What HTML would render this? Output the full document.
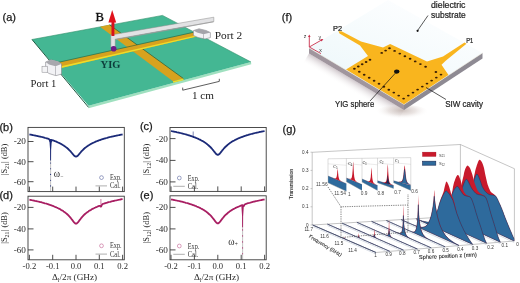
<!DOCTYPE html>
<html><head><meta charset="utf-8"><title>Figure</title>
<style>html,body{margin:0;padding:0;background:#fff;} svg{display:block;}</style></head>
<body><svg width="520" height="283" viewBox="0 0 520 283">
<rect width="520" height="283" fill="#fff"/>
<text x="2.6" y="20.8" font-family="'Liberation Sans', sans-serif" font-size="11" fill="#1a1a1a" stroke="#1a1a1a" stroke-width="0.25">(a)</text>
<polygon points="88.5,105.8 251.0,62.0 251.3,64.3 88.5,108.3" fill="#9fe0bf"/>
<polygon points="32.0,39.5 162.5,15.4 251.0,62.0 88.5,105.8" fill="#44b793"/>
<polyline points="32.0,39.5 162.5,15.4 251.0,62.0" fill="none" stroke="#2d8f68" stroke-width="0.6"/>
<line x1="32" y1="39.5" x2="88.5" y2="107.3" stroke="#1f5c44" stroke-width="1.0"/>
<polygon points="100.0,26.8 109.5,24.8 183.5,78.6 173.0,81.2" fill="#d7a21e"/>
<line x1="109.5" y1="24.8" x2="183.5" y2="78.6" stroke="#2a5a34" stroke-width="0.7"/>
<polygon points="173.0,81.2 183.5,78.6 183.5,80.2 173.0,82.8" fill="#eedc2a"/>
<polygon points="55.0,63.3 197.0,31.7 197.0,36.6 60.0,68.2" fill="#d7a21e"/>
<polygon points="60.0,66.4 197.0,35.2 197.0,36.6 60.0,68.2" fill="#eedc2a"/>
<line x1="55" y1="63.1" x2="197" y2="31.5" stroke="#2a5a34" stroke-width="0.6"/>
<polygon points="110.8,35.0 213.8,17.2 213.8,21.6 115.2,39.2 115.2,47.0 110.8,47.0" fill="#e2e2e4" stroke="#8a8a8a" stroke-width="0.5"/>
<line x1="115.6" y1="39.6" x2="213.5" y2="21.8" stroke="#9a9a9a" stroke-width="0.8"/>
<circle cx="113.7" cy="48.8" r="2.8" fill="#6e1a86"/>
<rect x="111.5" y="21.5" width="2.9" height="14.5" fill="#d8121c"/>
<polygon points="112.2,10.0 116.2,22.5 108.4,22.5" fill="#e0121c"/>
<polygon points="45.6,62.0 51.0,59.8 58.0,61.5 61.5,64.0 61.5,74.0 56.0,75.7 49.0,73.5 45.6,71.0" fill="#f2f2f5" stroke="#7c7c82" stroke-width="0.55"/>
<polygon points="45.6,62.0 51.0,59.8 58.0,61.5 61.5,64.0 55.5,66.3 49.0,64.5" fill="#a8a8ae"/>
<line x1="55.5" y1="66.3" x2="55.5" y2="75.2" stroke="#8a8a90" stroke-width="0.5"/>
<rect x="42" y="66.2" width="5.5" height="6" fill="#f4f4f6" stroke="#7c7c82" stroke-width="0.45"/>
<polygon points="193.4,30.6 199.0,28.8 206.0,30.5 210.4,32.6 210.4,37.6 205.0,39.0 198.0,37.5 193.4,35.4" fill="#f2f2f5" stroke="#7c7c82" stroke-width="0.55"/>
<polygon points="193.4,30.6 199.0,28.8 206.0,30.5 210.4,32.6 203.5,34.2 197.0,32.6" fill="#a4a4aa"/>
<line x1="203.5" y1="34.2" x2="203.5" y2="38.6" stroke="#8a8a90" stroke-width="0.5"/>
<text x="95.6" y="20.7" font-family="'Liberation Serif', serif" font-size="12.6" fill="#111" stroke="#111" stroke-width="0.35">B</text>
<text x="100.6" y="68" font-family="'Liberation Serif', serif" font-size="11.2" font-weight="bold" fill="#0c3c3a" textLength="19.8" lengthAdjust="spacingAndGlyphs">YIG</text>
<text x="214.8" y="38.9" font-family="'Liberation Serif', serif" font-size="11.2" fill="#1a1a1a" textLength="27.5" lengthAdjust="spacingAndGlyphs">Port 2</text>
<text x="30.6" y="86.6" font-family="'Liberation Serif', serif" font-size="11.2" fill="#1a1a1a" textLength="25.8" lengthAdjust="spacingAndGlyphs">Port 1</text>
<polyline points="182.7,87.6 182.7,90.2 219.3,81.4 219.3,78.8" fill="none" stroke="#333" stroke-width="0.8"/>
<text x="192" y="99.3" font-family="'Liberation Serif', serif" font-size="10.6" fill="#1a1a1a" textLength="22" lengthAdjust="spacingAndGlyphs">1 cm</text>
<text x="-0.6" y="131.3" font-family="'Liberation Sans', sans-serif" font-size="11" fill="#1a1a1a" stroke="#1a1a1a" stroke-width="0.25">(b)</text>
<circle cx="101.5" cy="177.6" r="1.9" fill="none" stroke="#1b2a78" stroke-width="0.6" opacity="0.7"/>
<text x="110.0" y="180.2" font-family="'Liberation Serif', serif" font-size="7.2" fill="#333" textLength="11.6" lengthAdjust="spacingAndGlyphs">Exp.</text>
<line x1="95.5" y1="185.9" x2="107.0" y2="185.9" stroke="#777" stroke-width="0.6"/>
<text x="110.0" y="188.4" font-family="'Liberation Serif', serif" font-size="7.2" fill="#333" textLength="10.6" lengthAdjust="spacingAndGlyphs">Cal.</text>
<line x1="50.6" y1="139.6" x2="50.6" y2="191.6" stroke="#888" stroke-width="0.5"/>
<polygon points="49.300000000000004,139.1 51.9,139.1 51.1,150.0 51.050000000000004,160.4 50.15,160.4 50.1,150.0" fill="#1b2a78"/>
<circle cx="50.6" cy="163.0" r="0.55" fill="#1b2a78"/>
<circle cx="50.6" cy="168.7" r="0.55" fill="#1b2a78"/>
<circle cx="50.6" cy="174.4" r="0.55" fill="#1b2a78"/>
<circle cx="50.6" cy="180.2" r="0.55" fill="#1b2a78"/>
<circle cx="50.6" cy="185.9" r="0.55" fill="#1b2a78"/>
<polyline points="29.4,134.4 30.2,134.6 31.0,134.7 31.7,134.9 32.5,135.0 33.3,135.2 34.1,135.3 34.8,135.5 35.6,135.6 36.4,135.8 37.2,136.0 37.9,136.1 38.7,136.3 39.5,136.5 40.3,136.6 41.1,136.8 41.8,137.0 42.6,137.2 43.4,137.4 44.2,137.6 44.9,137.8 45.7,138.0 46.5,138.3 47.1,138.4 47.3,138.5 47.3,138.5 47.6,138.6 47.8,138.6 48.0,138.7 48.3,138.8 48.5,138.9 48.7,139.0 48.8,139.0 49.0,139.1 49.2,139.3 49.4,139.6 49.6,139.8 49.7,140.0 49.9,140.4 50.1,140.9 50.4,141.3 50.6,141.5 50.8,141.5 51.1,141.2 51.1,141.1 51.3,140.9 51.5,140.6 51.8,140.3 51.9,140.2 52.0,140.2 52.2,140.2 52.5,140.2 52.7,140.3 52.9,140.3 53.2,140.4 53.4,140.5 53.5,140.5 53.6,140.6 53.9,140.7 54.3,140.8 55.0,141.1 55.8,141.4 56.6,141.8 57.4,142.1 58.1,142.5 58.9,142.8 59.7,143.2 60.5,143.6 61.2,144.0 62.0,144.5 62.8,145.0 63.6,145.4 64.3,146.0 65.1,146.5 65.9,147.1 66.7,147.7 67.5,148.3 68.2,149.0 69.0,149.8 69.8,150.6 70.6,151.4 71.3,152.3 71.6,152.6 71.8,152.8 72.0,153.1 72.1,153.2 72.3,153.4 72.5,153.7 72.7,154.0 72.9,154.2 73.0,154.2 73.2,154.5 73.4,154.8 73.7,155.1 73.9,155.3 74.1,155.5 74.4,155.8 74.4,155.8 74.6,156.0 74.8,156.1 75.1,156.3 75.2,156.4 75.3,156.4 75.5,156.5 75.8,156.6 76.0,156.6 76.2,156.6 76.5,156.5 76.7,156.4 76.8,156.4 76.9,156.3 77.2,156.1 77.4,156.0 77.6,155.8 77.6,155.8 77.9,155.5 78.1,155.3 78.3,155.1 78.6,154.8 78.8,154.5 79.0,154.2 79.1,154.2 79.3,154.0 79.5,153.7 79.7,153.4 79.9,153.2 80.0,153.1 80.2,152.8 80.4,152.6 80.7,152.3 81.4,151.4 82.2,150.6 83.0,149.8 83.8,149.0 84.5,148.3 85.3,147.7 86.1,147.1 86.9,146.5 87.7,146.0 88.4,145.4 89.2,145.0 90.0,144.5 90.8,144.0 91.5,143.6 92.3,143.2 93.1,142.8 93.9,142.5 94.6,142.1 95.4,141.8 96.2,141.4 97.0,141.1 97.2,141.0 97.4,140.9 97.7,140.9 97.7,140.8 97.9,140.8 98.1,140.7 98.4,140.6 98.5,140.5 98.6,140.5 98.8,140.4 99.1,140.3 99.3,140.2 99.5,140.2 99.8,140.1 100.0,140.0 100.1,140.0 100.2,139.9 100.5,139.8 100.7,139.8 100.9,139.7 100.9,139.7 101.2,139.6 101.4,139.5 101.6,139.4 101.9,139.4 102.1,139.3 102.3,139.2 102.4,139.2 102.6,139.1 102.8,139.1 103.0,139.0 103.2,138.9 103.3,138.9 103.5,138.9 103.7,138.8 104.0,138.7 104.2,138.6 104.4,138.6 104.7,138.5 104.7,138.5 104.9,138.4 105.1,138.4 105.5,138.3 106.3,138.0 107.1,137.8 107.8,137.6 108.6,137.4 109.4,137.2 110.2,137.0 110.9,136.8 111.7,136.6 112.5,136.5 113.3,136.3 114.1,136.1 114.8,136.0 115.6,135.8 116.4,135.6 117.2,135.5 117.9,135.3 118.7,135.2 119.5,135.0 120.3,134.9 121.0,134.7 121.8,134.6 122.6,134.4" fill="none" stroke="#1b2a78" stroke-width="1.8" stroke-linejoin="round"/>
<rect x="28" y="127.4" width="96.3" height="64.19999999999999" fill="none" stroke="#3a3a3a" stroke-width="0.9"/>
<line x1="28" y1="141.5" x2="33.5" y2="141.5" stroke="#3a3a3a" stroke-width="0.9"/>
<text x="13.7" y="144.4" font-family="'Liberation Serif', serif" font-size="8.7" fill="#2a2a2a" textLength="12.3" lengthAdjust="spacingAndGlyphs">-20</text>
<line x1="28" y1="161.7" x2="33.5" y2="161.7" stroke="#3a3a3a" stroke-width="0.9"/>
<text x="13.7" y="164.6" font-family="'Liberation Serif', serif" font-size="8.7" fill="#2a2a2a" textLength="12.3" lengthAdjust="spacingAndGlyphs">-40</text>
<line x1="28" y1="181.7" x2="33.5" y2="181.7" stroke="#3a3a3a" stroke-width="0.9"/>
<text x="13.7" y="184.6" font-family="'Liberation Serif', serif" font-size="8.7" fill="#2a2a2a" textLength="12.3" lengthAdjust="spacingAndGlyphs">-60</text>
<line x1="29.4" y1="191.6" x2="29.4" y2="186.6" stroke="#3a3a3a" stroke-width="0.9"/>
<line x1="52.7" y1="191.6" x2="52.7" y2="186.6" stroke="#3a3a3a" stroke-width="0.9"/>
<line x1="76.0" y1="191.6" x2="76.0" y2="186.6" stroke="#3a3a3a" stroke-width="0.9"/>
<line x1="99.3" y1="191.6" x2="99.3" y2="186.6" stroke="#3a3a3a" stroke-width="0.9"/>
<line x1="122.6" y1="191.6" x2="122.6" y2="186.6" stroke="#3a3a3a" stroke-width="0.9"/>
<text transform="translate(7.199999999999999,159.5) rotate(-90)" text-anchor="middle" font-family="'Liberation Serif', serif" font-size="8.4" fill="#2a2a2a">|S<tspan font-size='6' dy='1.5'>21</tspan><tspan dy='-1.5'>| (dB)</tspan></text>
<text x="53.8" y="176.6" font-family="'Liberation Serif', serif" font-size="9.6" fill="#2a2a2a">ω<tspan font-size='5.5' dy='1.5'>−</tspan></text>
<text x="139.9" y="130.3" font-family="'Liberation Sans', sans-serif" font-size="11" fill="#1a1a1a" stroke="#1a1a1a" stroke-width="0.25">(c)</text>
<circle cx="179.3" cy="178" r="1.9" fill="none" stroke="#1b2a78" stroke-width="0.6" opacity="0.7"/>
<text x="187.8" y="180.6" font-family="'Liberation Serif', serif" font-size="7.2" fill="#333" textLength="11.6" lengthAdjust="spacingAndGlyphs">Exp.</text>
<line x1="173.3" y1="186.3" x2="184.8" y2="186.3" stroke="#777" stroke-width="0.6"/>
<text x="187.8" y="188.8" font-family="'Liberation Serif', serif" font-size="7.2" fill="#333" textLength="10.6" lengthAdjust="spacingAndGlyphs">Cal.</text>
<line x1="193.2" y1="131.5" x2="193.2" y2="136.5" stroke="#1b2a78" stroke-width="0.7" opacity="0.8"/>
<polyline points="171.0,131.0 171.8,131.2 172.6,131.3 173.3,131.5 174.1,131.6 174.9,131.8 175.7,131.9 176.5,132.1 177.2,132.3 178.0,132.5 178.8,132.6 179.6,132.8 180.4,133.0 181.1,133.2 181.9,133.4 182.7,133.6 183.5,133.8 184.3,134.0 185.0,134.2 185.8,134.4 186.6,134.6 187.4,134.9 188.2,135.1 188.8,135.3 188.9,135.4 189.0,135.4 189.3,135.5 189.5,135.5 189.7,135.6 190.0,135.7 190.2,135.8 190.4,135.8 190.5,135.9 190.7,135.9 190.9,136.0 191.1,136.1 191.3,136.1 191.4,136.1 191.6,136.2 191.8,136.3 192.1,136.4 192.3,136.5 192.5,136.6 192.8,136.6 192.8,136.7 193.0,136.7 193.2,136.8 193.5,136.9 193.6,137.0 193.7,137.0 193.9,137.1 194.2,137.2 194.4,137.3 194.6,137.3 194.9,137.4 195.1,137.5 195.2,137.6 195.3,137.6 195.6,137.7 196.0,137.9 196.7,138.2 197.5,138.5 198.3,138.9 199.1,139.3 199.9,139.6 200.6,140.0 201.4,140.5 202.2,140.9 203.0,141.3 203.8,141.8 204.5,142.3 205.3,142.8 206.1,143.4 206.9,144.0 207.7,144.6 208.4,145.3 209.2,146.0 210.0,146.7 210.8,147.5 211.6,148.3 212.3,149.2 213.1,150.2 213.4,150.5 213.6,150.8 213.8,151.1 213.9,151.2 214.1,151.4 214.3,151.7 214.5,152.0 214.7,152.2 214.8,152.3 215.0,152.6 215.2,152.9 215.5,153.2 215.7,153.4 215.9,153.7 216.2,153.9 216.2,154.0 216.4,154.1 216.6,154.3 216.9,154.5 217.0,154.6 217.1,154.6 217.3,154.7 217.6,154.8 217.8,154.8 218.0,154.8 218.3,154.7 218.5,154.6 218.6,154.6 218.7,154.5 219.0,154.3 219.2,154.1 219.4,154.0 219.4,153.9 219.7,153.7 219.9,153.4 220.1,153.2 220.4,152.9 220.6,152.6 220.8,152.3 220.9,152.2 221.1,152.0 221.3,151.7 221.5,151.4 221.7,151.2 221.8,151.1 222.0,150.8 222.2,150.5 222.5,150.2 223.3,149.2 224.0,148.3 224.8,147.5 225.6,146.7 226.4,146.0 227.2,145.3 227.9,144.6 228.7,144.0 229.5,143.4 230.3,142.8 231.1,142.3 231.8,141.8 232.6,141.3 233.4,140.9 234.2,140.5 235.0,140.0 235.7,139.6 236.5,139.3 237.3,138.9 238.1,138.5 238.9,138.2 239.1,138.1 239.3,138.0 239.6,137.9 239.6,137.9 239.8,137.8 240.0,137.7 240.3,137.6 240.4,137.6 240.5,137.5 240.7,137.4 241.0,137.3 241.2,137.3 241.4,137.2 241.7,137.1 241.9,137.0 242.0,137.0 242.1,136.9 242.4,136.8 242.6,136.7 242.8,136.7 242.8,136.6 243.1,136.6 243.3,136.5 243.5,136.4 243.8,136.3 244.0,136.2 244.2,136.1 244.3,136.1 244.5,136.1 244.7,136.0 244.9,135.9 245.1,135.9 245.2,135.8 245.4,135.8 245.6,135.7 245.9,135.6 246.1,135.5 246.3,135.5 246.6,135.4 246.7,135.4 246.8,135.3 247.1,135.2 247.4,135.1 248.2,134.9 249.0,134.6 249.8,134.4 250.6,134.2 251.3,134.0 252.1,133.8 252.9,133.6 253.7,133.4 254.5,133.2 255.2,133.0 256.0,132.8 256.8,132.6 257.6,132.5 258.4,132.3 259.1,132.1 259.9,131.9 260.7,131.8 261.5,131.6 262.3,131.5 263.0,131.3 263.8,131.2 264.6,131.0" fill="none" stroke="#1b2a78" stroke-width="1.8" stroke-linejoin="round"/>
<rect x="170" y="127.5" width="96.19999999999999" height="63.900000000000006" fill="none" stroke="#3a3a3a" stroke-width="0.9"/>
<line x1="170" y1="138.6" x2="175.5" y2="138.6" stroke="#3a3a3a" stroke-width="0.9"/>
<text x="155.7" y="141.5" font-family="'Liberation Serif', serif" font-size="8.7" fill="#2a2a2a" textLength="12.3" lengthAdjust="spacingAndGlyphs">-20</text>
<line x1="170" y1="160.4" x2="175.5" y2="160.4" stroke="#3a3a3a" stroke-width="0.9"/>
<text x="155.7" y="163.3" font-family="'Liberation Serif', serif" font-size="8.7" fill="#2a2a2a" textLength="12.3" lengthAdjust="spacingAndGlyphs">-40</text>
<line x1="170" y1="181.9" x2="175.5" y2="181.9" stroke="#3a3a3a" stroke-width="0.9"/>
<text x="155.7" y="184.8" font-family="'Liberation Serif', serif" font-size="8.7" fill="#2a2a2a" textLength="12.3" lengthAdjust="spacingAndGlyphs">-60</text>
<line x1="171.0" y1="191.4" x2="171.0" y2="186.4" stroke="#3a3a3a" stroke-width="0.9"/>
<line x1="194.4" y1="191.4" x2="194.4" y2="186.4" stroke="#3a3a3a" stroke-width="0.9"/>
<line x1="217.8" y1="191.4" x2="217.8" y2="186.4" stroke="#3a3a3a" stroke-width="0.9"/>
<line x1="241.2" y1="191.4" x2="241.2" y2="186.4" stroke="#3a3a3a" stroke-width="0.9"/>
<line x1="264.6" y1="191.4" x2="264.6" y2="186.4" stroke="#3a3a3a" stroke-width="0.9"/>
<text transform="translate(149.2,159.45) rotate(-90)" text-anchor="middle" font-family="'Liberation Serif', serif" font-size="8.4" fill="#2a2a2a">|S<tspan font-size='6' dy='1.5'>12</tspan><tspan dy='-1.5'>| (dB)</tspan></text>
<text x="-0.6" y="199.3" font-family="'Liberation Sans', sans-serif" font-size="11" fill="#1a1a1a" stroke="#1a1a1a" stroke-width="0.25">(d)</text>
<circle cx="101.5" cy="245.8" r="1.9" fill="none" stroke="#a81e62" stroke-width="0.6" opacity="0.7"/>
<text x="110.0" y="248.4" font-family="'Liberation Serif', serif" font-size="7.2" fill="#333" textLength="11.6" lengthAdjust="spacingAndGlyphs">Exp.</text>
<line x1="95.5" y1="254.10000000000002" x2="107.0" y2="254.10000000000002" stroke="#777" stroke-width="0.6"/>
<text x="110.0" y="256.6" font-family="'Liberation Serif', serif" font-size="7.2" fill="#333" textLength="10.6" lengthAdjust="spacingAndGlyphs">Cal.</text>
<line x1="100.9" y1="199" x2="100.9" y2="206.5" stroke="#a81e62" stroke-width="0.7" opacity="0.8"/>
<polyline points="29.4,199.7 30.2,199.9 31.0,200.0 31.7,200.2 32.5,200.3 33.3,200.5 34.1,200.6 34.8,200.8 35.6,201.0 36.4,201.1 37.2,201.3 37.9,201.5 38.7,201.7 39.5,201.9 40.3,202.1 41.1,202.2 41.8,202.4 42.6,202.6 43.4,202.9 44.2,203.1 44.9,203.3 45.7,203.5 46.5,203.7 47.1,203.9 47.3,204.0 47.3,204.0 47.6,204.1 47.8,204.2 48.0,204.2 48.3,204.3 48.5,204.4 48.7,204.5 48.8,204.5 49.0,204.5 49.2,204.6 49.4,204.7 49.6,204.7 49.7,204.8 49.9,204.8 50.1,204.9 50.4,205.0 50.6,205.1 50.8,205.2 51.1,205.2 51.1,205.3 51.3,205.3 51.5,205.4 51.8,205.5 51.9,205.6 52.0,205.6 52.2,205.7 52.5,205.8 52.7,205.9 52.9,205.9 53.2,206.0 53.4,206.1 53.5,206.2 53.6,206.2 53.9,206.3 54.3,206.5 55.0,206.8 55.8,207.1 56.6,207.5 57.4,207.8 58.1,208.2 58.9,208.6 59.7,209.0 60.5,209.4 61.2,209.9 62.0,210.4 62.8,210.8 63.6,211.4 64.3,211.9 65.1,212.5 65.9,213.1 66.7,213.8 67.5,214.5 68.2,215.2 69.0,216.0 69.8,216.9 70.6,217.8 71.3,218.8 71.6,219.1 71.8,219.4 72.0,219.7 72.1,219.8 72.3,220.0 72.5,220.3 72.7,220.6 72.9,220.9 73.0,221.0 73.2,221.3 73.4,221.6 73.7,221.9 73.9,222.2 74.1,222.4 74.4,222.7 74.4,222.8 74.6,222.9 74.8,223.1 75.1,223.3 75.2,223.4 75.3,223.5 75.5,223.6 75.8,223.6 76.0,223.7 76.2,223.6 76.5,223.6 76.7,223.5 76.8,223.4 76.9,223.3 77.2,223.1 77.4,222.9 77.6,222.8 77.6,222.7 77.9,222.4 78.1,222.2 78.3,221.9 78.6,221.6 78.8,221.3 79.0,221.0 79.1,220.9 79.3,220.6 79.5,220.3 79.7,220.0 79.9,219.8 80.0,219.7 80.2,219.4 80.4,219.1 80.7,218.8 81.4,217.8 82.2,216.9 83.0,216.0 83.8,215.2 84.5,214.5 85.3,213.8 86.1,213.1 86.9,212.5 87.7,211.9 88.4,211.4 89.2,210.8 90.0,210.4 90.8,209.9 91.5,209.4 92.3,209.0 93.1,208.6 93.9,208.2 94.6,207.8 95.4,207.5 96.2,207.1 97.0,206.8 97.2,206.7 97.4,206.6 97.7,206.5 97.7,206.5 97.9,206.4 98.1,206.3 98.4,206.2 98.5,206.2 98.6,206.1 98.8,206.0 99.1,205.9 99.3,205.9 99.5,205.8 99.8,205.9 100.0,206.0 100.1,206.1 100.2,206.2 100.5,206.5 100.7,206.7 100.9,206.7 100.9,206.7 101.2,206.4 101.4,205.9 101.6,205.4 101.9,204.9 102.1,204.5 102.3,204.3 102.4,204.2 102.6,204.1 102.8,204.0 103.0,203.9 103.2,203.8 103.3,203.8 103.5,203.7 103.7,203.7 104.0,203.6 104.2,203.5 104.4,203.4 104.7,203.4 104.7,203.3 104.9,203.3 105.1,203.2 105.5,203.1 106.3,202.9 107.1,202.7 107.8,202.4 108.6,202.2 109.4,202.0 110.2,201.8 110.9,201.6 111.7,201.4 112.5,201.2 113.3,201.0 114.1,200.9 114.8,200.7 115.6,200.5 116.4,200.3 117.2,200.2 117.9,200.0 118.7,199.8 119.5,199.7 120.3,199.5 121.0,199.4 121.8,199.2 122.6,199.1" fill="none" stroke="#a81e62" stroke-width="1.8" stroke-linejoin="round"/>
<rect x="28" y="196.2" width="96.3" height="63.60000000000002" fill="none" stroke="#3a3a3a" stroke-width="0.9"/>
<line x1="28" y1="207.4" x2="33.5" y2="207.4" stroke="#3a3a3a" stroke-width="0.9"/>
<text x="13.7" y="210.3" font-family="'Liberation Serif', serif" font-size="8.7" fill="#2a2a2a" textLength="12.3" lengthAdjust="spacingAndGlyphs">-20</text>
<line x1="28" y1="228.9" x2="33.5" y2="228.9" stroke="#3a3a3a" stroke-width="0.9"/>
<text x="13.7" y="231.8" font-family="'Liberation Serif', serif" font-size="8.7" fill="#2a2a2a" textLength="12.3" lengthAdjust="spacingAndGlyphs">-40</text>
<line x1="28" y1="249.9" x2="33.5" y2="249.9" stroke="#3a3a3a" stroke-width="0.9"/>
<text x="13.7" y="252.8" font-family="'Liberation Serif', serif" font-size="8.7" fill="#2a2a2a" textLength="12.3" lengthAdjust="spacingAndGlyphs">-60</text>
<line x1="29.4" y1="259.8" x2="29.4" y2="254.8" stroke="#3a3a3a" stroke-width="0.9"/>
<text x="29.4" y="269.1" text-anchor="middle" font-family="'Liberation Serif', serif" font-size="8.6" fill="#2a2a2a">-0.2</text>
<line x1="52.7" y1="259.8" x2="52.7" y2="254.8" stroke="#3a3a3a" stroke-width="0.9"/>
<text x="52.7" y="269.1" text-anchor="middle" font-family="'Liberation Serif', serif" font-size="8.6" fill="#2a2a2a">-0.1</text>
<line x1="76.0" y1="259.8" x2="76.0" y2="254.8" stroke="#3a3a3a" stroke-width="0.9"/>
<text x="76.0" y="269.1" text-anchor="middle" font-family="'Liberation Serif', serif" font-size="8.6" fill="#2a2a2a">0.0</text>
<line x1="99.3" y1="259.8" x2="99.3" y2="254.8" stroke="#3a3a3a" stroke-width="0.9"/>
<text x="99.3" y="269.1" text-anchor="middle" font-family="'Liberation Serif', serif" font-size="8.6" fill="#2a2a2a">0.1</text>
<line x1="122.6" y1="259.8" x2="122.6" y2="254.8" stroke="#3a3a3a" stroke-width="0.9"/>
<text x="122.6" y="269.1" text-anchor="middle" font-family="'Liberation Serif', serif" font-size="8.6" fill="#2a2a2a">0.2</text>
<text transform="translate(7.199999999999999,228.0) rotate(-90)" text-anchor="middle" font-family="'Liberation Serif', serif" font-size="8.4" fill="#2a2a2a">|S<tspan font-size='6' dy='1.5'>21</tspan><tspan dy='-1.5'>| (dB)</tspan></text>
<text x="139.9" y="199.3" font-family="'Liberation Sans', sans-serif" font-size="11" fill="#1a1a1a" stroke="#1a1a1a" stroke-width="0.25">(e)</text>
<circle cx="179.3" cy="246" r="1.9" fill="none" stroke="#a81e62" stroke-width="0.6" opacity="0.7"/>
<text x="187.8" y="248.6" font-family="'Liberation Serif', serif" font-size="7.2" fill="#333" textLength="11.6" lengthAdjust="spacingAndGlyphs">Exp.</text>
<line x1="173.3" y1="254.3" x2="184.8" y2="254.3" stroke="#777" stroke-width="0.6"/>
<text x="187.8" y="256.8" font-family="'Liberation Serif', serif" font-size="7.2" fill="#333" textLength="10.6" lengthAdjust="spacingAndGlyphs">Cal.</text>
<line x1="242.6" y1="205.5" x2="242.6" y2="259.8" stroke="#888" stroke-width="0.5"/>
<polygon points="241.29999999999998,205.0 243.9,205.0 243.1,216.4 243.04999999999998,227.2 242.15,227.2 242.1,216.4" fill="#a81e62"/>
<circle cx="242.6" cy="229.9" r="0.55" fill="#a81e62"/>
<circle cx="242.6" cy="235.9" r="0.55" fill="#a81e62"/>
<circle cx="242.6" cy="241.9" r="0.55" fill="#a81e62"/>
<circle cx="242.6" cy="247.9" r="0.55" fill="#a81e62"/>
<circle cx="242.6" cy="253.8" r="0.55" fill="#a81e62"/>
<polyline points="171.0,199.4 171.8,199.6 172.6,199.7 173.3,199.9 174.1,200.0 174.9,200.2 175.7,200.3 176.5,200.5 177.2,200.7 178.0,200.8 178.8,201.0 179.6,201.2 180.4,201.4 181.1,201.5 181.9,201.7 182.7,201.9 183.5,202.1 184.3,202.3 185.0,202.5 185.8,202.8 186.6,203.0 187.4,203.2 188.2,203.4 188.8,203.6 188.9,203.7 189.0,203.7 189.3,203.8 189.5,203.8 189.7,203.9 190.0,204.0 190.2,204.1 190.4,204.1 190.5,204.2 190.7,204.2 190.9,204.3 191.1,204.4 191.3,204.4 191.4,204.4 191.6,204.5 191.8,204.6 192.1,204.7 192.3,204.8 192.5,204.8 192.8,204.9 192.8,205.0 193.0,205.0 193.2,205.1 193.5,205.2 193.6,205.2 193.7,205.3 193.9,205.4 194.2,205.4 194.4,205.5 194.6,205.6 194.9,205.7 195.1,205.8 195.2,205.8 195.3,205.9 195.6,206.0 196.0,206.1 196.7,206.5 197.5,206.8 198.3,207.2 199.1,207.5 199.9,207.9 200.6,208.3 201.4,208.7 202.2,209.1 203.0,209.6 203.8,210.0 204.5,210.5 205.3,211.1 206.1,211.6 206.9,212.2 207.7,212.8 208.4,213.5 209.2,214.2 210.0,214.9 210.8,215.7 211.6,216.6 212.3,217.5 213.1,218.5 213.4,218.8 213.6,219.1 213.8,219.4 213.9,219.5 214.1,219.7 214.3,220.0 214.5,220.3 214.7,220.5 214.8,220.6 215.0,220.9 215.2,221.3 215.5,221.6 215.7,221.8 215.9,222.1 216.2,222.4 216.2,222.5 216.4,222.6 216.6,222.8 216.9,223.0 217.0,223.1 217.1,223.1 217.3,223.3 217.6,223.3 217.8,223.3 218.0,223.3 218.3,223.3 218.5,223.1 218.6,223.1 218.7,223.0 219.0,222.8 219.2,222.6 219.4,222.5 219.4,222.4 219.7,222.1 219.9,221.8 220.1,221.6 220.4,221.3 220.6,220.9 220.8,220.6 220.9,220.5 221.1,220.3 221.3,220.0 221.5,219.7 221.7,219.5 221.8,219.4 222.0,219.1 222.2,218.8 222.5,218.5 223.3,217.5 224.0,216.6 224.8,215.7 225.6,214.9 226.4,214.2 227.2,213.5 227.9,212.8 228.7,212.2 229.5,211.6 230.3,211.1 231.1,210.5 231.8,210.0 232.6,209.6 233.4,209.1 234.2,208.7 235.0,208.3 235.7,207.9 236.5,207.5 237.3,207.2 238.1,206.8 238.9,206.5 239.1,206.4 239.3,206.3 239.6,206.2 239.6,206.1 239.8,206.1 240.0,206.0 240.3,205.9 240.4,205.8 240.5,205.8 240.7,205.7 241.0,205.6 241.2,205.5 241.4,205.4 241.7,205.4 241.9,205.3 242.0,205.2 242.1,205.2 242.4,205.2 242.6,205.2 242.8,205.3 242.8,205.3 243.1,205.6 243.3,206.0 243.5,206.2 243.8,206.2 244.0,205.8 244.2,205.2 244.3,205.1 244.5,204.8 244.7,204.5 244.9,204.3 245.1,204.2 245.2,204.1 245.4,204.1 245.6,204.0 245.9,203.9 246.1,203.8 246.3,203.8 246.6,203.7 246.7,203.7 246.8,203.6 247.1,203.5 247.4,203.4 248.2,203.2 249.0,203.0 249.8,202.8 250.6,202.5 251.3,202.3 252.1,202.1 252.9,201.9 253.7,201.7 254.5,201.5 255.2,201.4 256.0,201.2 256.8,201.0 257.6,200.8 258.4,200.7 259.1,200.5 259.9,200.3 260.7,200.2 261.5,200.0 262.3,199.9 263.0,199.7 263.8,199.6 264.6,199.4" fill="none" stroke="#a81e62" stroke-width="1.8" stroke-linejoin="round"/>
<rect x="170" y="195.8" width="96.19999999999999" height="64.0" fill="none" stroke="#3a3a3a" stroke-width="0.9"/>
<line x1="170" y1="207.4" x2="175.5" y2="207.4" stroke="#3a3a3a" stroke-width="0.9"/>
<text x="155.7" y="210.3" font-family="'Liberation Serif', serif" font-size="8.7" fill="#2a2a2a" textLength="12.3" lengthAdjust="spacingAndGlyphs">-20</text>
<line x1="170" y1="228.9" x2="175.5" y2="228.9" stroke="#3a3a3a" stroke-width="0.9"/>
<text x="155.7" y="231.8" font-family="'Liberation Serif', serif" font-size="8.7" fill="#2a2a2a" textLength="12.3" lengthAdjust="spacingAndGlyphs">-40</text>
<line x1="170" y1="249.9" x2="175.5" y2="249.9" stroke="#3a3a3a" stroke-width="0.9"/>
<text x="155.7" y="252.8" font-family="'Liberation Serif', serif" font-size="8.7" fill="#2a2a2a" textLength="12.3" lengthAdjust="spacingAndGlyphs">-60</text>
<line x1="171.0" y1="259.8" x2="171.0" y2="254.8" stroke="#3a3a3a" stroke-width="0.9"/>
<text x="171.0" y="269.1" text-anchor="middle" font-family="'Liberation Serif', serif" font-size="8.6" fill="#2a2a2a">-0.2</text>
<line x1="194.4" y1="259.8" x2="194.4" y2="254.8" stroke="#3a3a3a" stroke-width="0.9"/>
<text x="194.4" y="269.1" text-anchor="middle" font-family="'Liberation Serif', serif" font-size="8.6" fill="#2a2a2a">-0.1</text>
<line x1="217.8" y1="259.8" x2="217.8" y2="254.8" stroke="#3a3a3a" stroke-width="0.9"/>
<text x="217.8" y="269.1" text-anchor="middle" font-family="'Liberation Serif', serif" font-size="8.6" fill="#2a2a2a">0.0</text>
<line x1="241.2" y1="259.8" x2="241.2" y2="254.8" stroke="#3a3a3a" stroke-width="0.9"/>
<text x="241.2" y="269.1" text-anchor="middle" font-family="'Liberation Serif', serif" font-size="8.6" fill="#2a2a2a">0.1</text>
<line x1="264.6" y1="259.8" x2="264.6" y2="254.8" stroke="#3a3a3a" stroke-width="0.9"/>
<text x="264.6" y="269.1" text-anchor="middle" font-family="'Liberation Serif', serif" font-size="8.6" fill="#2a2a2a">0.2</text>
<text transform="translate(149.2,227.8) rotate(-90)" text-anchor="middle" font-family="'Liberation Serif', serif" font-size="8.4" fill="#2a2a2a">|S<tspan font-size='6' dy='1.5'>12</tspan><tspan dy='-1.5'>| (dB)</tspan></text>
<text x="228.3" y="244.6" font-family="'Liberation Serif', serif" font-size="9.6" fill="#2a2a2a">ω<tspan font-size='5.5' dy='1.5'>+</tspan></text>
<text x="74.5" y="279.6" text-anchor="middle" font-family="'Liberation Serif', serif" font-size="9.2" fill="#2a2a2a">Δ<tspan font-size="6" dy="2.2">l</tspan><tspan dy="-2.2">/2π (GHz)</tspan></text>
<text x="216.5" y="279.6" text-anchor="middle" font-family="'Liberation Serif', serif" font-size="9.2" fill="#2a2a2a">Δ<tspan font-size="6" dy="2.2">l</tspan><tspan dy="-2.2">/2π (GHz)</tspan></text>
<text x="281.8" y="20.6" font-family="'Liberation Sans', sans-serif" font-size="11" fill="#1a1a1a" stroke="#1a1a1a" stroke-width="0.25">(f)</text>
<defs><linearGradient id="shd" gradientUnits="userSpaceOnUse" x1="356.5" y1="81.8" x2="350.9" y2="91.2"><stop offset="0" stop-color="#c9bfc4" stop-opacity="0.85"/><stop offset="1" stop-color="#ffffff" stop-opacity="0"/></linearGradient><radialGradient id="shd2" cx="0.5" cy="0.35" r="0.5"><stop offset="0" stop-color="#c9bdb9" stop-opacity="0.95"/><stop offset="0.5" stop-color="#ddd4d1" stop-opacity="0.6"/><stop offset="1" stop-color="#ffffff" stop-opacity="0"/></radialGradient><linearGradient id="sub" x1="0" y1="1" x2="0.6" y2="0"><stop offset="0" stop-color="#e9f6fa"/><stop offset="0.5" stop-color="#f3fafc"/><stop offset="1" stop-color="#fdfeff"/></linearGradient></defs>
<polygon points="309.0,53.6 404.0,110.1 398.4,119.5 303.4,63.0" fill="url(#shd)"/>
<ellipse cx="402" cy="113" rx="27" ry="8.5" fill="url(#shd2)"/>
<polygon points="309.0,48.0 404.0,104.5 404.0,110.1 309.0,53.6" fill="#a0969e"/>
<polygon points="404.0,104.5 482.5,53.0 482.5,58.6 404.0,110.1" fill="#8e8a93"/>
<polygon points="309.0,48.0 388.0,0.0 482.5,53.0 404.0,104.5" fill="url(#sub)"/>
<polygon points="346.0,69.5 368.0,56.0 360.0,45.5 339.5,33.5 338.5,31.2 341.5,31.2 361.0,41.4 383.0,47.6 390.2,44.0 427.0,61.5 443.0,56.5 464.5,42.5 466.5,43.8 446.0,60.5 441.5,64.8 448.5,75.0 404.0,104.5" fill="#f9b51e"/>
<polyline points="309.0,48.0 404.0,104.5 482.5,53.0" fill="none" stroke="#d9d2c4" stroke-width="0.5"/>
<ellipse cx="354.4" cy="68.8" rx="1.35" ry="0.95" fill="#3a1e05"/>
<ellipse cx="358.3" cy="66.5" rx="1.35" ry="0.95" fill="#3a1e05"/>
<ellipse cx="362.2" cy="64.2" rx="1.35" ry="0.95" fill="#3a1e05"/>
<ellipse cx="366.1" cy="62.0" rx="1.35" ry="0.95" fill="#3a1e05"/>
<ellipse cx="370.0" cy="59.7" rx="1.35" ry="0.95" fill="#3a1e05"/>
<ellipse cx="381.7" cy="52.9" rx="1.35" ry="0.95" fill="#3a1e05"/>
<ellipse cx="385.6" cy="50.6" rx="1.35" ry="0.95" fill="#3a1e05"/>
<ellipse cx="389.5" cy="48.3" rx="1.35" ry="0.95" fill="#3a1e05"/>
<ellipse cx="394.6" cy="50.9" rx="1.35" ry="0.95" fill="#3a1e05"/>
<ellipse cx="399.8" cy="53.6" rx="1.35" ry="0.95" fill="#3a1e05"/>
<ellipse cx="404.9" cy="56.2" rx="1.35" ry="0.95" fill="#3a1e05"/>
<ellipse cx="410.1" cy="58.8" rx="1.35" ry="0.95" fill="#3a1e05"/>
<ellipse cx="415.2" cy="61.4" rx="1.35" ry="0.95" fill="#3a1e05"/>
<ellipse cx="420.4" cy="64.1" rx="1.35" ry="0.95" fill="#3a1e05"/>
<ellipse cx="425.6" cy="66.7" rx="1.35" ry="0.95" fill="#3a1e05"/>
<ellipse cx="435.9" cy="72.0" rx="1.35" ry="0.95" fill="#3a1e05"/>
<ellipse cx="441.0" cy="74.6" rx="1.35" ry="0.95" fill="#3a1e05"/>
<ellipse cx="436.3" cy="77.6" rx="1.35" ry="0.95" fill="#3a1e05"/>
<ellipse cx="431.6" cy="80.6" rx="1.35" ry="0.95" fill="#3a1e05"/>
<ellipse cx="427.0" cy="83.6" rx="1.35" ry="0.95" fill="#3a1e05"/>
<ellipse cx="422.3" cy="86.6" rx="1.35" ry="0.95" fill="#3a1e05"/>
<ellipse cx="417.6" cy="89.6" rx="1.35" ry="0.95" fill="#3a1e05"/>
<ellipse cx="413.0" cy="92.6" rx="1.35" ry="0.95" fill="#3a1e05"/>
<ellipse cx="408.3" cy="95.6" rx="1.35" ry="0.95" fill="#3a1e05"/>
<ellipse cx="403.6" cy="98.6" rx="1.35" ry="0.95" fill="#3a1e05"/>
<ellipse cx="398.7" cy="95.6" rx="1.35" ry="0.95" fill="#3a1e05"/>
<ellipse cx="393.8" cy="92.6" rx="1.35" ry="0.95" fill="#3a1e05"/>
<ellipse cx="388.8" cy="89.7" rx="1.35" ry="0.95" fill="#3a1e05"/>
<ellipse cx="383.9" cy="86.7" rx="1.35" ry="0.95" fill="#3a1e05"/>
<ellipse cx="379.0" cy="83.7" rx="1.35" ry="0.95" fill="#3a1e05"/>
<ellipse cx="374.1" cy="80.7" rx="1.35" ry="0.95" fill="#3a1e05"/>
<ellipse cx="369.2" cy="77.7" rx="1.35" ry="0.95" fill="#3a1e05"/>
<ellipse cx="364.2" cy="74.8" rx="1.35" ry="0.95" fill="#3a1e05"/>
<ellipse cx="359.3" cy="71.8" rx="1.35" ry="0.95" fill="#3a1e05"/>
<ellipse cx="396.8" cy="71.6" rx="2.7" ry="2.1" fill="#111"/>
<line x1="395.5" y1="73" x2="370" y2="101" stroke="#111" stroke-width="0.7"/>
<line x1="426" y1="87.5" x2="446" y2="99.5" stroke="#111" stroke-width="0.7"/>
<line x1="428" y1="15.5" x2="417.6" y2="30.5" stroke="#111" stroke-width="0.7"/>
<circle cx="417.6" cy="30.8" r="1.1" fill="#111"/>
<text x="431" y="7.6" font-family="'Liberation Sans', sans-serif" font-size="8.8" fill="#1e1e1e" stroke="#1e1e1e" stroke-width="0.22" textLength="34.5" lengthAdjust="spacingAndGlyphs">dielectric</text>
<text x="431" y="18.2" font-family="'Liberation Sans', sans-serif" font-size="8.8" fill="#1e1e1e" stroke="#1e1e1e" stroke-width="0.22" textLength="34.8" lengthAdjust="spacingAndGlyphs">substrate</text>
<text x="333" y="30.5" font-family="'Liberation Sans', sans-serif" font-size="6.3" fill="#1e1e1e" stroke="#1e1e1e" stroke-width="0.22" textLength="9" lengthAdjust="spacingAndGlyphs">P2</text>
<text x="466.3" y="43.4" font-family="'Liberation Sans', sans-serif" font-size="6.3" fill="#1e1e1e" stroke="#1e1e1e" stroke-width="0.22" textLength="7" lengthAdjust="spacingAndGlyphs">P1</text>
<text x="335" y="106.6" font-family="'Liberation Sans', sans-serif" font-size="8.8" fill="#1e1e1e" stroke="#1e1e1e" stroke-width="0.22" textLength="39.2" lengthAdjust="spacingAndGlyphs">YIG sphere</text>
<text x="445.2" y="107.4" font-family="'Liberation Sans', sans-serif" font-size="8.8" fill="#1e1e1e" stroke="#1e1e1e" stroke-width="0.22" textLength="37.8" lengthAdjust="spacingAndGlyphs">SIW cavity</text>
<line x1="309.3" y1="47" x2="309.3" y2="36" stroke="#c8304c" stroke-width="0.9"/>
<polygon points="308,37 309.3,34.5 310.6,37" fill="#c8304c"/>
<line x1="309.3" y1="47" x2="321.5" y2="40" stroke="#c8304c" stroke-width="0.9"/>
<polygon points="320.2,39.2 323.4,38.9 321.6,41.5" fill="#c8304c"/>
<line x1="309.3" y1="47" x2="321" y2="53.6" stroke="#c8304c" stroke-width="0.9"/>
<text x="303.8" y="38.4" font-family="'Liberation Sans', sans-serif" font-size="5.2" fill="#333">z</text>
<text x="318.6" y="38.6" font-family="'Liberation Sans', sans-serif" font-size="5.2" fill="#333">y</text>
<text x="319.2" y="51.6" font-family="'Liberation Sans', sans-serif" font-size="5.2" fill="#333">x</text>
<text x="282.6" y="132.6" font-family="'Liberation Sans', sans-serif" font-size="11" fill="#1a1a1a" stroke="#1a1a1a" stroke-width="0.25">(g)</text>
<polyline points="312.2,225.0 312.2,152.3 460.4,144.5 460.4,216.0" fill="none" stroke="#8c8c8c" stroke-width="0.5"/>
<polyline points="460.4,144.5 514.4,168.7 514.4,241.0" fill="none" stroke="#8c8c8c" stroke-width="0.5"/>
<polyline points="460.2,216.0 312.6,225.0 376.0,252.5 514.2,241.0" fill="none" stroke="#888" stroke-width="0.5"/>
<line x1="310.5" y1="225.0" x2="312.2" y2="225.0" stroke="#777" stroke-width="0.4"/>
<text x="308.5" y="226.6" text-anchor="end" font-family="'Liberation Sans', sans-serif" font-size="4.6" fill="#333">0</text>
<line x1="310.5" y1="206.8" x2="312.2" y2="206.8" stroke="#777" stroke-width="0.4"/>
<text x="308.5" y="208.4" text-anchor="end" font-family="'Liberation Sans', sans-serif" font-size="4.6" fill="#333">0.1</text>
<line x1="310.5" y1="188.6" x2="312.2" y2="188.6" stroke="#777" stroke-width="0.4"/>
<text x="308.5" y="190.2" text-anchor="end" font-family="'Liberation Sans', sans-serif" font-size="4.6" fill="#333">0.2</text>
<line x1="310.5" y1="170.4" x2="312.2" y2="170.4" stroke="#777" stroke-width="0.4"/>
<text x="308.5" y="172.0" text-anchor="end" font-family="'Liberation Sans', sans-serif" font-size="4.6" fill="#333">0.3</text>
<line x1="310.5" y1="152.2" x2="312.2" y2="152.2" stroke="#777" stroke-width="0.4"/>
<text x="308.5" y="153.8" text-anchor="end" font-family="'Liberation Sans', sans-serif" font-size="4.6" fill="#333">0.4</text>
<text transform="translate(292.8,184) rotate(-90)" text-anchor="middle" font-family="'Liberation Sans', sans-serif" font-size="5.2" fill="#2a2a2a" stroke="#2a2a2a" stroke-width="0.1">Transmission</text>
<text x="308.7" y="231.2" text-anchor="middle" font-family="'Liberation Sans', sans-serif" font-size="4.6" fill="#333">11.7</text>
<text x="324.6" y="238.2" text-anchor="middle" font-family="'Liberation Sans', sans-serif" font-size="4.6" fill="#333">11.6</text>
<text x="338.9" y="244.6" text-anchor="middle" font-family="'Liberation Sans', sans-serif" font-size="4.6" fill="#333">11.5</text>
<text x="352.6" y="251.6" text-anchor="middle" font-family="'Liberation Sans', sans-serif" font-size="4.6" fill="#333">11.4</text>
<text transform="translate(324.5,247) rotate(31)" text-anchor="middle" font-family="'Liberation Sans', sans-serif" font-size="4.9" fill="#2a2a2a" stroke="#2a2a2a" stroke-width="0.1">Frequency (GHz)</text>
<text x="375.5" y="257.3" text-anchor="middle" font-family="'Liberation Sans', sans-serif" font-size="4.6" fill="#333">1</text>
<text x="388.7" y="256.2" text-anchor="middle" font-family="'Liberation Sans', sans-serif" font-size="4.6" fill="#333">0.9</text>
<text x="402.3" y="255.1" text-anchor="middle" font-family="'Liberation Sans', sans-serif" font-size="4.6" fill="#333">0.8</text>
<text x="416.6" y="254.0" text-anchor="middle" font-family="'Liberation Sans', sans-serif" font-size="4.6" fill="#333">0.7</text>
<text x="431" y="252.9" text-anchor="middle" font-family="'Liberation Sans', sans-serif" font-size="4.6" fill="#333">0.6</text>
<text x="445.6" y="251.8" text-anchor="middle" font-family="'Liberation Sans', sans-serif" font-size="4.6" fill="#333">0.5</text>
<text x="460.4" y="250.7" text-anchor="middle" font-family="'Liberation Sans', sans-serif" font-size="4.6" fill="#333">0.4</text>
<text x="475" y="249.6" text-anchor="middle" font-family="'Liberation Sans', sans-serif" font-size="4.6" fill="#333">0.3</text>
<text x="490.5" y="248.5" text-anchor="middle" font-family="'Liberation Sans', sans-serif" font-size="4.6" fill="#333">0.2</text>
<text x="504.8" y="247.4" text-anchor="middle" font-family="'Liberation Sans', sans-serif" font-size="4.6" fill="#333">0.1</text>
<text x="517.5" y="246.3" text-anchor="middle" font-family="'Liberation Sans', sans-serif" font-size="4.6" fill="#333">0</text>
<text transform="translate(448,257.8) rotate(-2.5)" text-anchor="middle" font-family="'Liberation Sans', sans-serif" font-size="5.6" fill="#2a2a2a" stroke="#2a2a2a" stroke-width="0.12">Sphere position z (mm)</text>
<polygon points="460.2,216.0 460.7,216.2 461.3,216.4 461.8,216.5 462.4,216.5 462.9,216.5 463.4,216.4 464.0,216.3 464.5,216.2 465.1,215.9 465.6,215.3 466.1,214.4 466.7,213.2 467.2,211.9 467.8,210.4 468.3,208.8 468.8,206.7 469.4,203.8 469.9,200.4 470.5,196.9 471.0,193.7 471.5,190.6 472.1,187.5 472.6,184.4 473.2,181.4 473.7,178.6 474.2,175.8 474.8,173.0 475.3,170.4 475.9,168.3 476.4,166.7 476.9,165.0 477.5,163.4 478.0,162.0 478.6,160.8 479.1,160.0 479.6,159.7 480.2,159.9 480.7,160.5 481.3,161.2 481.8,161.9 482.3,163.0 482.9,164.4 483.4,166.0 484.0,168.0 484.5,170.6 485.0,173.3 485.6,175.9 486.1,178.3 486.7,180.7 487.2,182.9 487.7,184.7 488.3,186.3 488.8,187.8 489.4,189.1 489.9,190.3 490.4,191.3 491.0,192.0 491.5,192.5 492.1,193.0 492.6,193.3 493.1,193.7 493.7,194.1 494.2,194.5 494.8,194.9 495.3,195.4 495.8,196.1 496.4,196.9 496.9,197.9 497.5,198.9 498.0,200.1 498.5,201.2 499.1,202.4 499.6,203.7 500.2,204.8 500.7,206.0 501.2,207.3 501.8,208.7 502.3,210.0 502.9,211.5 503.4,212.9 503.9,214.3 504.5,215.8 505.0,217.2 505.6,218.6 506.1,220.0 506.6,221.3 507.2,222.6 507.7,223.9 508.3,225.2 508.8,226.5 509.3,227.8 509.9,229.1 510.4,230.4 511.0,231.7 511.5,232.9 512.0,234.2 512.6,235.5 513.1,236.7 513.7,237.9 514.2,239.2 514.2,241.0 460.2,216.0" fill="#c81a2c"/>
<polygon points="460.2,216.0 460.7,216.2 461.3,216.4 461.8,216.4 462.4,216.5 462.9,216.5 463.4,216.4 464.0,216.3 464.5,216.2 465.1,215.9 465.6,215.3 466.1,214.6 466.7,213.6 467.2,212.4 467.8,211.1 468.3,209.7 468.8,208.0 469.4,205.6 469.9,203.0 470.5,200.1 471.0,197.3 471.5,194.4 472.1,191.1 472.6,187.7 473.2,184.5 473.7,181.8 474.2,179.7 474.8,178.1 475.3,176.6 475.9,175.3 476.4,174.4 476.9,174.1 477.5,174.5 478.0,175.3 478.6,176.5 479.1,177.8 479.6,179.1 480.2,180.5 480.7,182.1 481.3,183.8 481.8,185.4 482.3,186.7 482.9,187.7 483.4,188.7 484.0,189.6 484.5,190.4 485.0,191.1 485.6,191.7 486.1,192.2 486.7,192.7 487.2,193.2 487.7,193.6 488.3,194.0 488.8,194.3 489.4,194.5 489.9,194.7 490.4,194.8 491.0,194.9 491.5,195.0 492.1,195.0 492.6,195.1 493.1,195.2 493.7,195.3 494.2,195.4 494.8,195.6 495.3,195.9 495.8,196.4 496.4,197.1 496.9,198.1 497.5,199.1 498.0,200.2 498.5,201.4 499.1,202.6 499.6,203.9 500.2,205.0 500.7,206.2 501.2,207.4 501.8,208.8 502.3,210.2 502.9,211.6 503.4,213.0 503.9,214.5 504.5,216.0 505.0,217.4 505.6,218.8 506.1,220.1 506.6,221.5 507.2,222.8 507.7,224.1 508.3,225.4 508.8,226.7 509.3,228.0 509.9,229.2 510.4,230.5 511.0,231.8 511.5,233.0 512.0,234.3 512.6,235.5 513.1,236.7 513.7,238.0 514.2,239.2 514.2,241.0 460.2,216.0" fill="#2e6a9c"/>
<polyline points="460.2,216.0 460.7,216.2 461.3,216.4 461.8,216.4 462.4,216.5 462.9,216.5 463.4,216.4 464.0,216.3 464.5,216.2 465.1,215.9 465.6,215.3 466.1,214.6 466.7,213.6 467.2,212.4 467.8,211.1 468.3,209.7 468.8,208.0 469.4,205.6 469.9,203.0 470.5,200.1 471.0,197.3 471.5,194.4 472.1,191.1 472.6,187.7 473.2,184.5 473.7,181.8 474.2,179.7 474.8,178.1 475.3,176.6 475.9,175.3 476.4,174.4 476.9,174.1 477.5,174.5 478.0,175.3 478.6,176.5 479.1,177.8 479.6,179.1 480.2,180.5 480.7,182.1 481.3,183.8 481.8,185.4 482.3,186.7 482.9,187.7 483.4,188.7 484.0,189.6 484.5,190.4 485.0,191.1 485.6,191.7 486.1,192.2 486.7,192.7 487.2,193.2 487.7,193.6 488.3,194.0 488.8,194.3 489.4,194.5 489.9,194.7 490.4,194.8 491.0,194.9 491.5,195.0 492.1,195.0 492.6,195.1 493.1,195.2 493.7,195.3 494.2,195.4 494.8,195.6 495.3,195.9 495.8,196.4 496.4,197.1 496.9,198.1 497.5,199.1 498.0,200.2 498.5,201.4 499.1,202.6 499.6,203.9 500.2,205.0 500.7,206.2 501.2,207.4 501.8,208.8 502.3,210.2 502.9,211.6 503.4,213.0 503.9,214.5 504.5,216.0 505.0,217.4 505.6,218.8 506.1,220.1 506.6,221.5 507.2,222.8 507.7,224.1 508.3,225.4 508.8,226.7 509.3,228.0 509.9,229.2 510.4,230.5 511.0,231.8 511.5,233.0 512.0,234.3 512.6,235.5 513.1,236.7 513.7,238.0 514.2,239.2" fill="none" stroke="#1b2a55" stroke-width="0.45"/>
<line x1="460.2" y1="217.5" x2="514.2" y2="242.5" stroke="#b4bfcc" stroke-width="0.5"/>
<line x1="460.2" y1="216.0" x2="514.2" y2="241.0" stroke="#333d62" stroke-width="0.6"/>
<polygon points="445.4,216.9 446.0,217.1 446.5,217.3 447.1,217.5 447.6,217.6 448.2,217.6 448.7,217.7 449.3,217.7 449.8,217.7 450.4,217.6 450.9,217.6 451.5,217.5 452.0,217.2 452.6,216.8 453.1,216.3 453.7,215.7 454.2,215.0 454.8,214.1 455.3,213.2 455.9,212.2 456.4,211.0 457.0,209.5 457.5,207.5 458.1,205.0 458.6,202.3 459.2,199.6 459.7,196.5 460.3,192.9 460.8,189.2 461.4,185.7 461.9,182.6 462.5,180.1 463.0,177.9 463.6,175.5 464.1,172.7 464.7,170.6 465.2,169.1 465.8,167.8 466.3,166.7 466.9,165.9 467.4,165.6 468.0,165.8 468.5,166.2 469.1,166.7 469.6,167.4 470.2,168.4 470.7,169.8 471.3,171.4 471.8,173.1 472.4,174.8 472.9,176.8 473.5,178.9 474.0,180.9 474.6,182.9 475.1,184.5 475.7,186.0 476.2,187.4 476.8,188.7 477.3,189.9 477.9,190.9 478.4,191.6 479.0,192.2 479.5,192.7 480.1,193.2 480.6,193.6 481.2,194.0 481.7,194.3 482.2,194.6 482.8,194.8 483.3,195.1 483.9,195.4 484.4,195.7 485.0,196.1 485.5,196.8 486.1,197.8 486.6,199.1 487.2,200.5 487.7,202.2 488.3,204.0 488.8,205.9 489.4,207.9 489.9,209.9 490.5,211.9 491.0,213.9 491.6,215.7 492.1,217.4 492.7,219.1 493.2,220.9 493.8,222.7 494.3,224.5 494.9,226.4 495.4,228.2 496.0,230.1 496.5,231.9 497.1,233.7 497.6,235.3 498.2,236.9 498.7,238.4 499.3,239.8 499.8,241.0 500.4,242.2 500.4,242.2 445.4,216.9" fill="#c81a2c"/>
<polygon points="445.4,216.9 446.0,217.1 446.5,217.3 447.1,217.5 447.6,217.6 448.2,217.6 448.7,217.7 449.3,217.7 449.8,217.7 450.4,217.6 450.9,217.6 451.5,217.5 452.0,217.3 452.6,217.0 453.1,216.5 453.7,216.0 454.2,215.4 454.8,214.7 455.3,213.8 455.9,212.9 456.4,211.9 457.0,210.5 457.5,208.5 458.1,206.2 458.6,203.7 459.2,201.4 459.7,199.1 460.3,196.7 460.8,194.2 461.4,191.7 461.9,189.5 462.5,187.5 463.0,185.9 463.6,184.4 464.1,183.0 464.7,181.6 465.2,180.5 465.8,179.6 466.3,179.3 466.9,179.5 467.4,180.1 468.0,181.1 468.5,182.1 469.1,183.2 469.6,184.2 470.2,185.4 470.7,186.6 471.3,187.7 471.8,188.6 472.4,189.4 472.9,190.1 473.5,190.8 474.0,191.4 474.6,192.1 475.1,192.6 475.7,193.2 476.2,193.6 476.8,194.0 477.3,194.2 477.9,194.4 478.4,194.6 479.0,194.7 479.5,194.8 480.1,194.9 480.6,195.0 481.2,195.1 481.7,195.3 482.2,195.5 482.8,195.6 483.3,195.8 483.9,196.0 484.4,196.2 485.0,196.6 485.5,197.3 486.1,198.2 486.6,199.5 487.2,201.0 487.7,202.6 488.3,204.4 488.8,206.3 489.4,208.3 489.9,210.3 490.5,212.3 491.0,214.2 491.6,216.1 492.1,217.8 492.7,219.5 493.2,221.2 493.8,223.0 494.3,224.8 494.9,226.6 495.4,228.4 496.0,230.2 496.5,232.0 497.1,233.7 497.6,235.4 498.2,237.0 498.7,238.5 499.3,239.8 499.8,241.0 500.4,242.2 500.4,242.2 445.4,216.9" fill="#2e6a9c"/>
<polyline points="445.4,216.9 446.0,217.1 446.5,217.3 447.1,217.5 447.6,217.6 448.2,217.6 448.7,217.7 449.3,217.7 449.8,217.7 450.4,217.6 450.9,217.6 451.5,217.5 452.0,217.3 452.6,217.0 453.1,216.5 453.7,216.0 454.2,215.4 454.8,214.7 455.3,213.8 455.9,212.9 456.4,211.9 457.0,210.5 457.5,208.5 458.1,206.2 458.6,203.7 459.2,201.4 459.7,199.1 460.3,196.7 460.8,194.2 461.4,191.7 461.9,189.5 462.5,187.5 463.0,185.9 463.6,184.4 464.1,183.0 464.7,181.6 465.2,180.5 465.8,179.6 466.3,179.3 466.9,179.5 467.4,180.1 468.0,181.1 468.5,182.1 469.1,183.2 469.6,184.2 470.2,185.4 470.7,186.6 471.3,187.7 471.8,188.6 472.4,189.4 472.9,190.1 473.5,190.8 474.0,191.4 474.6,192.1 475.1,192.6 475.7,193.2 476.2,193.6 476.8,194.0 477.3,194.2 477.9,194.4 478.4,194.6 479.0,194.7 479.5,194.8 480.1,194.9 480.6,195.0 481.2,195.1 481.7,195.3 482.2,195.5 482.8,195.6 483.3,195.8 483.9,196.0 484.4,196.2 485.0,196.6 485.5,197.3 486.1,198.2 486.6,199.5 487.2,201.0 487.7,202.6 488.3,204.4 488.8,206.3 489.4,208.3 489.9,210.3 490.5,212.3 491.0,214.2 491.6,216.1 492.1,217.8 492.7,219.5 493.2,221.2 493.8,223.0 494.3,224.8 494.9,226.6 495.4,228.4 496.0,230.2 496.5,232.0 497.1,233.7 497.6,235.4 498.2,237.0 498.7,238.5 499.3,239.8 499.8,241.0 500.4,242.2" fill="none" stroke="#1b2a55" stroke-width="0.45"/>
<line x1="445.4" y1="218.4" x2="500.4" y2="243.7" stroke="#b4bfcc" stroke-width="0.5"/>
<line x1="445.4" y1="216.9" x2="500.4" y2="242.2" stroke="#333d62" stroke-width="0.6"/>
<polygon points="430.7,217.8 431.2,218.0 431.8,218.3 432.4,218.5 432.9,218.7 433.5,218.8 434.0,219.0 434.6,219.1 435.2,219.3 435.7,219.4 436.3,219.5 436.8,219.6 437.4,219.6 437.9,219.7 438.5,219.8 439.1,219.8 439.6,219.8 440.2,219.8 440.7,219.6 441.3,219.4 441.9,219.2 442.4,218.8 443.0,218.4 443.5,218.0 444.1,217.5 444.7,216.9 445.2,216.1 445.8,215.0 446.3,213.6 446.9,211.9 447.4,210.1 448.0,208.2 448.6,206.3 449.1,204.4 449.7,202.4 450.2,200.2 450.8,198.0 451.4,195.6 451.9,193.1 452.5,190.2 453.0,187.1 453.6,184.3 454.1,182.3 454.7,180.7 455.3,179.1 455.8,177.8 456.4,176.6 456.9,175.7 457.5,175.1 458.1,175.0 458.6,175.4 459.2,176.5 459.7,177.9 460.3,179.4 460.9,181.3 461.4,183.6 462.0,185.7 462.5,187.6 463.1,189.4 463.6,191.0 464.2,192.2 464.8,193.0 465.3,193.7 465.9,194.4 466.4,194.9 467.0,195.2 467.6,195.5 468.1,195.8 468.7,196.0 469.2,196.3 469.8,196.5 470.4,196.9 470.9,197.7 471.5,198.6 472.0,199.9 472.6,201.3 473.1,202.9 473.7,204.6 474.3,206.4 474.8,208.4 475.4,210.3 475.9,212.2 476.5,214.2 477.1,216.0 477.6,217.8 478.2,219.5 478.7,221.1 479.3,222.7 479.9,224.4 480.4,226.1 481.0,227.8 481.5,229.6 482.1,231.3 482.6,233.0 483.2,234.7 483.8,236.3 484.3,237.9 484.9,239.4 485.4,240.8 486.0,242.1 486.6,243.3 486.6,243.3 430.7,217.8" fill="#c81a2c"/>
<polygon points="430.7,217.8 431.2,218.0 431.8,218.3 432.4,218.5 432.9,218.7 433.5,218.8 434.0,219.0 434.6,219.1 435.2,219.3 435.7,219.4 436.3,219.5 436.8,219.6 437.4,219.6 437.9,219.7 438.5,219.8 439.1,219.8 439.6,219.8 440.2,219.8 440.7,219.6 441.3,219.4 441.9,219.1 442.4,218.8 443.0,218.4 443.5,218.0 444.1,217.5 444.7,216.9 445.2,216.1 445.8,215.1 446.3,213.8 446.9,212.3 447.4,210.6 448.0,208.9 448.6,207.1 449.1,205.3 449.7,203.3 450.2,201.0 450.8,198.7 451.4,196.5 451.9,194.7 452.5,193.3 453.0,192.0 453.6,190.8 454.1,189.7 454.7,188.8 455.3,188.1 455.8,187.4 456.4,186.8 456.9,186.4 457.5,186.4 458.1,186.8 458.6,187.5 459.2,188.4 459.7,189.4 460.3,190.3 460.9,191.2 461.4,191.9 462.0,192.8 462.5,193.6 463.1,194.3 463.6,194.9 464.2,195.2 464.8,195.5 465.3,195.7 465.9,195.8 466.4,196.0 467.0,196.2 467.6,196.3 468.1,196.4 468.7,196.5 469.2,196.7 469.8,196.9 470.4,197.3 470.9,198.0 471.5,199.0 472.0,200.2 472.6,201.6 473.1,203.1 473.7,204.8 474.3,206.6 474.8,208.5 475.4,210.4 475.9,212.3 476.5,214.2 477.1,216.1 477.6,217.8 478.2,219.5 478.7,221.0 479.3,222.7 479.9,224.4 480.4,226.1 481.0,227.8 481.5,229.5 482.1,231.3 482.6,233.0 483.2,234.7 483.8,236.3 484.3,237.9 484.9,239.4 485.4,240.8 486.0,242.1 486.6,243.3 486.6,243.3 430.7,217.8" fill="#2e6a9c"/>
<polyline points="430.7,217.8 431.2,218.0 431.8,218.3 432.4,218.5 432.9,218.7 433.5,218.8 434.0,219.0 434.6,219.1 435.2,219.3 435.7,219.4 436.3,219.5 436.8,219.6 437.4,219.6 437.9,219.7 438.5,219.8 439.1,219.8 439.6,219.8 440.2,219.8 440.7,219.6 441.3,219.4 441.9,219.1 442.4,218.8 443.0,218.4 443.5,218.0 444.1,217.5 444.7,216.9 445.2,216.1 445.8,215.1 446.3,213.8 446.9,212.3 447.4,210.6 448.0,208.9 448.6,207.1 449.1,205.3 449.7,203.3 450.2,201.0 450.8,198.7 451.4,196.5 451.9,194.7 452.5,193.3 453.0,192.0 453.6,190.8 454.1,189.7 454.7,188.8 455.3,188.1 455.8,187.4 456.4,186.8 456.9,186.4 457.5,186.4 458.1,186.8 458.6,187.5 459.2,188.4 459.7,189.4 460.3,190.3 460.9,191.2 461.4,191.9 462.0,192.8 462.5,193.6 463.1,194.3 463.6,194.9 464.2,195.2 464.8,195.5 465.3,195.7 465.9,195.8 466.4,196.0 467.0,196.2 467.6,196.3 468.1,196.4 468.7,196.5 469.2,196.7 469.8,196.9 470.4,197.3 470.9,198.0 471.5,199.0 472.0,200.2 472.6,201.6 473.1,203.1 473.7,204.8 474.3,206.6 474.8,208.5 475.4,210.4 475.9,212.3 476.5,214.2 477.1,216.1 477.6,217.8 478.2,219.5 478.7,221.0 479.3,222.7 479.9,224.4 480.4,226.1 481.0,227.8 481.5,229.5 482.1,231.3 482.6,233.0 483.2,234.7 483.8,236.3 484.3,237.9 484.9,239.4 485.4,240.8 486.0,242.1 486.6,243.3" fill="none" stroke="#1b2a55" stroke-width="0.45"/>
<line x1="430.7" y1="219.3" x2="486.6" y2="244.8" stroke="#b4bfcc" stroke-width="0.5"/>
<line x1="430.7" y1="217.8" x2="486.6" y2="243.3" stroke="#333d62" stroke-width="0.6"/>
<polygon points="415.9,218.7 416.5,219.0 417.1,219.2 417.6,219.4 418.2,219.6 418.8,219.9 419.3,220.1 419.9,220.3 420.5,220.4 421.0,220.6 421.6,220.8 422.2,220.9 422.7,221.1 423.3,221.2 423.9,221.4 424.4,221.5 425.0,221.6 425.6,221.7 426.1,221.8 426.7,221.9 427.3,222.0 427.9,222.1 428.4,222.0 429.0,221.9 429.6,221.7 430.1,221.4 430.7,221.0 431.3,220.6 431.8,220.2 432.4,219.7 433.0,219.1 433.5,218.5 434.1,217.7 434.7,216.8 435.2,215.7 435.8,214.5 436.4,213.1 436.9,211.7 437.5,210.3 438.1,208.6 438.6,206.5 439.2,204.3 439.8,202.1 440.4,200.3 440.9,198.6 441.5,197.1 442.1,195.7 442.6,194.2 443.2,192.7 443.8,190.9 444.3,188.5 444.9,186.0 445.5,183.7 446.0,182.1 446.6,181.6 447.2,182.2 447.7,183.2 448.3,184.6 448.9,186.0 449.4,187.6 450.0,189.7 450.6,191.8 451.1,193.7 451.7,195.2 452.3,196.5 452.9,197.8 453.4,199.3 454.0,201.2 454.6,203.3 455.1,205.7 455.7,208.1 456.3,210.5 456.8,212.6 457.4,214.4 458.0,216.1 458.5,217.7 459.1,219.3 459.7,220.8 460.2,222.2 460.8,223.6 461.4,224.9 461.9,226.2 462.5,227.4 463.1,228.6 463.6,229.8 464.2,230.9 464.8,231.9 465.4,233.0 465.9,234.0 466.5,235.0 467.1,235.9 467.6,236.9 468.2,237.8 468.8,238.7 469.3,239.6 469.9,240.4 470.5,241.3 471.0,242.1 471.6,242.9 472.2,243.7 472.7,244.4 472.7,244.4 415.9,218.7" fill="#c81a2c"/>
<polygon points="415.9,218.7 416.5,219.0 417.1,219.2 417.6,219.4 418.2,219.6 418.8,219.9 419.3,220.1 419.9,220.3 420.5,220.4 421.0,220.6 421.6,220.8 422.2,220.9 422.7,221.1 423.3,221.2 423.9,221.4 424.4,221.5 425.0,221.6 425.6,221.7 426.1,221.8 426.7,221.9 427.3,222.0 427.9,222.1 428.4,222.0 429.0,221.9 429.6,221.7 430.1,221.4 430.7,221.0 431.3,220.6 431.8,220.2 432.4,219.7 433.0,219.1 433.5,218.5 434.1,217.7 434.7,216.7 435.2,215.6 435.8,214.4 436.4,213.1 436.9,211.7 437.5,210.3 438.1,208.7 438.6,206.7 439.2,204.7 439.8,202.8 440.4,201.2 440.9,199.8 441.5,198.4 442.1,197.2 442.6,196.0 443.2,194.9 443.8,194.0 444.3,193.1 444.9,192.1 445.5,191.3 446.0,190.9 446.6,191.1 447.2,191.6 447.7,192.2 448.3,192.9 448.9,193.6 449.4,194.3 450.0,195.1 450.6,195.9 451.1,196.9 451.7,197.9 452.3,199.0 452.9,200.3 453.4,201.9 454.0,203.8 454.6,205.7 455.1,207.8 455.7,209.8 456.3,211.7 456.8,213.5 457.4,215.1 458.0,216.6 458.5,218.1 459.1,219.5 459.7,220.9 460.2,222.3 460.8,223.7 461.4,225.0 461.9,226.2 462.5,227.4 463.1,228.6 463.6,229.8 464.2,230.9 464.8,231.9 465.4,233.0 465.9,234.0 466.5,234.9 467.1,235.9 467.6,236.8 468.2,237.8 468.8,238.7 469.3,239.6 469.9,240.4 470.5,241.3 471.0,242.1 471.6,242.9 472.2,243.7 472.7,244.4 472.7,244.4 415.9,218.7" fill="#2e6a9c"/>
<polyline points="415.9,218.7 416.5,219.0 417.1,219.2 417.6,219.4 418.2,219.6 418.8,219.9 419.3,220.1 419.9,220.3 420.5,220.4 421.0,220.6 421.6,220.8 422.2,220.9 422.7,221.1 423.3,221.2 423.9,221.4 424.4,221.5 425.0,221.6 425.6,221.7 426.1,221.8 426.7,221.9 427.3,222.0 427.9,222.1 428.4,222.0 429.0,221.9 429.6,221.7 430.1,221.4 430.7,221.0 431.3,220.6 431.8,220.2 432.4,219.7 433.0,219.1 433.5,218.5 434.1,217.7 434.7,216.7 435.2,215.6 435.8,214.4 436.4,213.1 436.9,211.7 437.5,210.3 438.1,208.7 438.6,206.7 439.2,204.7 439.8,202.8 440.4,201.2 440.9,199.8 441.5,198.4 442.1,197.2 442.6,196.0 443.2,194.9 443.8,194.0 444.3,193.1 444.9,192.1 445.5,191.3 446.0,190.9 446.6,191.1 447.2,191.6 447.7,192.2 448.3,192.9 448.9,193.6 449.4,194.3 450.0,195.1 450.6,195.9 451.1,196.9 451.7,197.9 452.3,199.0 452.9,200.3 453.4,201.9 454.0,203.8 454.6,205.7 455.1,207.8 455.7,209.8 456.3,211.7 456.8,213.5 457.4,215.1 458.0,216.6 458.5,218.1 459.1,219.5 459.7,220.9 460.2,222.3 460.8,223.7 461.4,225.0 461.9,226.2 462.5,227.4 463.1,228.6 463.6,229.8 464.2,230.9 464.8,231.9 465.4,233.0 465.9,234.0 466.5,234.9 467.1,235.9 467.6,236.8 468.2,237.8 468.8,238.7 469.3,239.6 469.9,240.4 470.5,241.3 471.0,242.1 471.6,242.9 472.2,243.7 472.7,244.4" fill="none" stroke="#1b2a55" stroke-width="0.45"/>
<line x1="415.9" y1="220.2" x2="472.7" y2="245.9" stroke="#b4bfcc" stroke-width="0.5"/>
<line x1="415.9" y1="218.7" x2="472.7" y2="244.4" stroke="#333d62" stroke-width="0.6"/>
<polygon points="401.2,219.6 402.6,220.2 404.0,220.9 405.5,221.5 406.9,222.2 408.4,222.8 409.8,223.4 411.3,224.0 412.7,224.6 414.2,225.2 415.6,225.7 417.0,226.2 418.5,226.6 419.9,226.9 421.4,227.1 422.8,227.1 424.3,226.8 425.7,226.0 427.2,224.7 428.6,222.5 430.0,219.1 430.8,216.7 430.9,216.2 431.0,215.8 431.1,215.3 431.3,214.9 431.4,214.4 431.5,213.9 431.6,213.4 431.7,212.9 431.8,212.3 431.9,211.7 432.1,211.1 432.2,210.5 432.3,209.9 432.4,209.3 432.5,208.6 432.6,207.9 432.8,207.1 432.9,206.4 432.9,206.0 433.0,205.6 433.1,204.7 433.2,203.8 433.3,202.9 433.4,201.9 433.6,200.7 433.7,199.4 433.8,197.9 433.9,196.1 434.0,193.9 434.1,191.6 434.3,189.9 434.4,191.4 434.5,193.6 434.6,195.7 434.7,197.4 434.8,198.9 434.9,200.1 435.1,201.2 435.2,202.1 435.3,203.0 435.4,203.9 435.5,204.7 435.6,205.5 435.8,206.2 435.8,206.6 435.9,206.9 436.0,207.6 436.1,208.3 436.2,209.0 436.3,209.6 436.5,210.3 436.6,210.9 436.7,211.5 436.8,212.1 436.9,212.7 437.0,213.2 437.1,213.8 437.3,214.3 437.4,214.8 437.5,215.4 437.6,215.9 437.7,216.4 438.7,220.2 440.1,224.8 441.6,228.5 443.0,231.4 444.5,233.7 445.9,235.7 447.4,237.3 448.8,238.7 450.3,239.9 451.7,241.0 453.1,242.0 454.6,242.9 456.0,243.7 457.5,244.5 458.9,245.3 458.9,245.6 401.2,219.6" fill="#c81a2c"/>
<polygon points="401.2,219.6 402.6,220.2 404.0,220.9 405.5,221.5 406.9,222.2 408.4,222.8 409.8,223.4 411.3,224.0 412.7,224.6 414.2,225.2 415.6,225.7 417.0,226.2 418.5,226.7 419.9,227.0 421.4,227.2 422.8,227.2 424.3,226.9 425.7,226.2 427.2,224.9 428.6,222.8 430.0,219.6 430.8,217.2 430.9,216.8 431.0,216.4 431.1,216.0 431.3,215.5 431.4,215.1 431.5,214.6 431.6,214.1 431.7,213.6 431.8,213.1 431.9,212.6 432.1,212.0 432.2,211.4 432.3,210.8 432.4,210.2 432.5,209.6 432.6,208.9 432.8,208.2 432.9,207.5 432.9,207.2 433.0,206.8 433.1,206.0 433.2,205.2 433.3,204.4 433.4,203.5 433.6,202.6 433.7,201.6 433.8,200.4 433.9,199.2 434.0,197.8 434.1,196.4 434.3,196.4 434.4,197.6 434.5,198.9 434.6,200.1 434.7,201.1 434.8,202.0 434.9,202.9 435.1,203.7 435.2,204.5 435.3,205.3 435.4,206.0 435.5,206.7 435.6,207.4 435.8,208.1 435.8,208.4 435.9,208.8 436.0,209.4 436.1,210.0 436.2,210.6 436.3,211.2 436.5,211.8 436.6,212.4 436.7,213.0 436.8,213.5 436.9,214.1 437.0,214.6 437.1,215.1 437.3,215.6 437.4,216.1 437.5,216.6 437.6,217.1 437.7,217.6 438.7,221.2 440.1,225.6 441.6,229.0 443.0,231.8 444.5,234.1 445.9,235.9 447.4,237.5 448.8,238.9 450.3,240.0 451.7,241.1 453.1,242.0 454.6,242.9 456.0,243.8 457.5,244.5 458.9,245.3 458.9,245.6 401.2,219.6" fill="#2e6a9c"/>
<polyline points="401.2,219.6 402.6,220.2 404.0,220.9 405.5,221.5 406.9,222.2 408.4,222.8 409.8,223.4 411.3,224.0 412.7,224.6 414.2,225.2 415.6,225.7 417.0,226.2 418.5,226.7 419.9,227.0 421.4,227.2 422.8,227.2 424.3,226.9 425.7,226.2 427.2,224.9 428.6,222.8 430.0,219.6 430.8,217.2 430.9,216.8 431.0,216.4 431.1,216.0 431.3,215.5 431.4,215.1 431.5,214.6 431.6,214.1 431.7,213.6 431.8,213.1 431.9,212.6 432.1,212.0 432.2,211.4 432.3,210.8 432.4,210.2 432.5,209.6 432.6,208.9 432.8,208.2 432.9,207.5 432.9,207.2 433.0,206.8 433.1,206.0 433.2,205.2 433.3,204.4 433.4,203.5 433.6,202.6 433.7,201.6 433.8,200.4 433.9,199.2 434.0,197.8 434.1,196.4 434.3,196.4 434.4,197.6 434.5,198.9 434.6,200.1 434.7,201.1 434.8,202.0 434.9,202.9 435.1,203.7 435.2,204.5 435.3,205.3 435.4,206.0 435.5,206.7 435.6,207.4 435.8,208.1 435.8,208.4 435.9,208.8 436.0,209.4 436.1,210.0 436.2,210.6 436.3,211.2 436.5,211.8 436.6,212.4 436.7,213.0 436.8,213.5 436.9,214.1 437.0,214.6 437.1,215.1 437.3,215.6 437.4,216.1 437.5,216.6 437.6,217.1 437.7,217.6 438.7,221.2 440.1,225.6 441.6,229.0 443.0,231.8 444.5,234.1 445.9,235.9 447.4,237.5 448.8,238.9 450.3,240.0 451.7,241.1 453.1,242.0 454.6,242.9 456.0,243.8 457.5,244.5 458.9,245.3" fill="none" stroke="#1b2a55" stroke-width="0.45"/>
<line x1="401.2" y1="221.1" x2="458.9" y2="247.1" stroke="#b4bfcc" stroke-width="0.5"/>
<line x1="401.2" y1="219.6" x2="458.9" y2="245.6" stroke="#333d62" stroke-width="0.6"/>
<polygon points="386.4,220.5 387.9,221.2 389.3,221.8 390.8,222.5 392.3,223.1 393.7,223.8 395.2,224.4 396.7,225.1 398.1,225.7 399.6,226.4 401.1,227.1 402.5,227.7 404.0,228.4 405.5,229.0 406.9,229.7 408.4,230.3 409.9,230.9 411.3,231.5 412.8,231.9 414.3,231.7 414.8,231.3 414.9,231.2 415.0,231.1 415.1,230.9 415.2,230.7 415.3,230.5 415.5,230.3 415.6,230.1 415.7,229.8 415.8,229.6 415.8,229.5 415.9,229.1 416.0,228.8 416.2,228.3 416.3,227.9 416.4,227.3 416.5,226.8 416.6,226.1 416.7,225.4 416.9,224.6 417.0,223.7 417.1,222.7 417.2,221.6 417.3,220.4 417.5,219.0 417.6,217.3 417.7,215.4 417.8,213.0 417.9,209.9 418.0,205.5 418.2,199.6 418.3,194.7 418.4,198.8 418.5,204.1 418.6,208.0 418.7,209.5 418.7,210.7 418.9,212.7 419.0,214.4 419.1,215.9 419.2,217.1 419.3,218.3 419.4,219.4 419.6,220.4 419.7,221.3 419.8,222.2 419.9,223.0 420.0,223.7 420.2,224.5 420.3,225.1 420.4,225.8 420.5,226.4 420.6,227.0 420.7,227.5 420.9,228.0 421.0,228.5 421.1,229.0 421.2,229.4 421.3,229.9 421.4,230.3 421.6,230.6 421.6,230.8 421.7,231.0 421.8,231.4 423.1,234.3 424.6,236.3 426.0,237.6 427.5,238.6 429.0,239.4 430.4,240.1 431.9,240.8 433.4,241.5 434.8,242.1 436.3,242.8 437.8,243.5 439.2,244.1 440.7,244.8 442.2,245.4 443.6,246.1 445.1,246.7 445.1,246.8 386.4,220.5" fill="#c81a2c"/>
<polygon points="386.4,220.5 387.9,221.2 389.3,221.8 390.8,222.5 392.3,223.1 393.7,223.8 395.2,224.4 396.7,225.1 398.1,225.7 399.6,226.4 401.1,227.1 402.5,227.7 404.0,228.4 405.5,229.0 406.9,229.7 408.4,230.3 409.9,231.0 411.3,231.5 412.8,232.0 414.3,231.9 414.8,231.6 414.9,231.5 415.0,231.4 415.1,231.3 415.2,231.1 415.3,231.0 415.5,230.8 415.6,230.6 415.7,230.3 415.8,230.2 415.8,230.1 415.9,229.8 416.0,229.5 416.2,229.1 416.3,228.7 416.4,228.3 416.5,227.8 416.6,227.3 416.7,226.7 416.9,226.0 417.0,225.3 417.1,224.5 417.2,223.5 417.3,222.5 417.5,221.4 417.6,220.1 417.7,218.6 417.8,216.8 417.9,214.6 418.0,211.7 418.2,208.0 418.3,204.7 418.4,207.4 418.5,210.6 418.6,213.0 418.7,214.0 418.7,214.9 418.9,216.4 419.0,217.6 419.1,218.8 419.2,219.8 419.3,220.8 419.4,221.7 419.6,222.5 419.7,223.3 419.8,224.0 419.9,224.7 420.0,225.4 420.2,226.0 420.3,226.6 420.4,227.2 420.5,227.7 420.6,228.2 420.7,228.7 420.9,229.1 421.0,229.6 421.1,230.0 421.2,230.4 421.3,230.7 421.4,231.1 421.6,231.4 421.6,231.6 421.7,231.7 421.8,232.0 423.1,234.6 424.6,236.4 426.0,237.7 427.5,238.6 429.0,239.4 430.4,240.1 431.9,240.8 433.4,241.5 434.8,242.1 436.3,242.8 437.8,243.5 439.2,244.1 440.7,244.8 442.2,245.4 443.6,246.1 445.1,246.7 445.1,246.8 386.4,220.5" fill="#2e6a9c"/>
<polyline points="386.4,220.5 387.9,221.2 389.3,221.8 390.8,222.5 392.3,223.1 393.7,223.8 395.2,224.4 396.7,225.1 398.1,225.7 399.6,226.4 401.1,227.1 402.5,227.7 404.0,228.4 405.5,229.0 406.9,229.7 408.4,230.3 409.9,231.0 411.3,231.5 412.8,232.0 414.3,231.9 414.8,231.6 414.9,231.5 415.0,231.4 415.1,231.3 415.2,231.1 415.3,231.0 415.5,230.8 415.6,230.6 415.7,230.3 415.8,230.2 415.8,230.1 415.9,229.8 416.0,229.5 416.2,229.1 416.3,228.7 416.4,228.3 416.5,227.8 416.6,227.3 416.7,226.7 416.9,226.0 417.0,225.3 417.1,224.5 417.2,223.5 417.3,222.5 417.5,221.4 417.6,220.1 417.7,218.6 417.8,216.8 417.9,214.6 418.0,211.7 418.2,208.0 418.3,204.7 418.4,207.4 418.5,210.6 418.6,213.0 418.7,214.0 418.7,214.9 418.9,216.4 419.0,217.6 419.1,218.8 419.2,219.8 419.3,220.8 419.4,221.7 419.6,222.5 419.7,223.3 419.8,224.0 419.9,224.7 420.0,225.4 420.2,226.0 420.3,226.6 420.4,227.2 420.5,227.7 420.6,228.2 420.7,228.7 420.9,229.1 421.0,229.6 421.1,230.0 421.2,230.4 421.3,230.7 421.4,231.1 421.6,231.4 421.6,231.6 421.7,231.7 421.8,232.0 423.1,234.6 424.6,236.4 426.0,237.7 427.5,238.6 429.0,239.4 430.4,240.1 431.9,240.8 433.4,241.5 434.8,242.1 436.3,242.8 437.8,243.5 439.2,244.1 440.7,244.8 442.2,245.4 443.6,246.1 445.1,246.7" fill="none" stroke="#1b2a55" stroke-width="0.45"/>
<line x1="386.4" y1="222.0" x2="445.1" y2="248.2" stroke="#b4bfcc" stroke-width="0.5"/>
<line x1="386.4" y1="220.5" x2="445.1" y2="246.8" stroke="#333d62" stroke-width="0.6"/>
<polygon points="371.6,221.4 373.1,222.1 374.6,222.7 376.1,223.4 377.6,224.0 379.1,224.7 380.6,225.4 382.1,226.0 383.6,226.7 385.1,227.4 386.6,228.0 388.0,228.7 389.5,229.3 391.0,230.0 392.5,230.7 394.0,231.3 395.5,232.0 397.0,232.6 398.5,233.2 399.8,233.5 399.9,233.5 400.0,233.5 400.0,233.4 400.1,233.4 400.3,233.4 400.4,233.4 400.5,233.3 400.6,233.2 400.7,233.2 400.9,233.1 401.0,233.0 401.1,232.8 401.2,232.6 401.3,232.4 401.5,232.2 401.6,231.9 401.7,231.6 401.8,231.3 401.9,230.8 402.1,230.3 402.2,229.7 402.3,229.0 402.4,228.2 402.5,227.2 402.7,226.0 402.8,224.5 402.9,222.5 403.0,221.2 403.0,219.7 403.1,215.5 403.2,209.6 403.4,204.9 403.5,209.2 403.6,214.8 403.7,218.8 403.8,221.5 404.0,223.4 404.1,224.9 404.2,226.1 404.3,227.2 404.4,228.1 404.6,228.9 404.7,229.6 404.8,230.2 404.9,230.8 405.0,231.4 405.2,231.9 405.3,232.3 405.4,232.7 405.5,233.1 405.6,233.4 405.8,233.8 405.9,234.1 405.9,234.2 406.0,234.3 406.1,234.6 406.2,234.8 406.4,235.0 406.5,235.3 406.6,235.4 406.7,235.6 406.8,235.8 406.9,236.0 407.4,236.5 408.9,237.7 410.4,238.5 411.9,239.3 413.4,239.9 414.9,240.6 416.4,241.3 417.9,241.9 419.4,242.6 420.8,243.3 422.3,243.9 423.8,244.6 425.3,245.2 426.8,245.9 428.3,246.6 429.8,247.2 431.3,247.9 431.3,247.9 371.6,221.4" fill="#c81a2c"/>
<polygon points="371.6,221.4 373.1,222.1 374.6,222.7 376.1,223.4 377.6,224.0 379.1,224.7 380.6,225.4 382.1,226.0 383.6,226.7 385.1,227.4 386.6,228.0 388.0,228.7 389.5,229.3 391.0,230.0 392.5,230.7 394.0,231.3 395.5,232.0 397.0,232.6 398.5,233.2 399.8,233.5 399.9,233.5 400.0,233.5 400.0,233.5 400.1,233.5 400.3,233.5 400.4,233.5 400.5,233.5 400.6,233.4 400.7,233.4 400.9,233.3 401.0,233.2 401.1,233.1 401.2,232.9 401.3,232.8 401.5,232.6 401.6,232.4 401.7,232.1 401.8,231.8 401.9,231.5 402.1,231.1 402.2,230.6 402.3,230.0 402.4,229.4 402.5,228.6 402.7,227.8 402.8,226.7 402.9,225.4 403.0,224.6 403.0,223.7 403.1,221.3 403.2,218.2 403.4,215.5 403.5,217.9 403.6,220.7 403.7,222.9 403.8,224.5 404.0,225.8 404.1,226.8 404.2,227.8 404.3,228.6 404.4,229.3 404.6,230.0 404.7,230.5 404.8,231.1 404.9,231.6 405.0,232.1 405.2,232.5 405.3,232.9 405.4,233.2 405.5,233.6 405.6,233.9 405.8,234.1 405.9,234.4 405.9,234.5 406.0,234.6 406.1,234.9 406.2,235.1 406.4,235.3 406.5,235.5 406.6,235.6 406.7,235.8 406.8,236.0 406.9,236.1 407.4,236.6 408.9,237.7 410.4,238.6 411.9,239.3 413.4,239.9 414.9,240.6 416.4,241.3 417.9,241.9 419.4,242.6 420.8,243.3 422.3,243.9 423.8,244.6 425.3,245.2 426.8,245.9 428.3,246.6 429.8,247.2 431.3,247.9 431.3,247.9 371.6,221.4" fill="#2e6a9c"/>
<polyline points="371.6,221.4 373.1,222.1 374.6,222.7 376.1,223.4 377.6,224.0 379.1,224.7 380.6,225.4 382.1,226.0 383.6,226.7 385.1,227.4 386.6,228.0 388.0,228.7 389.5,229.3 391.0,230.0 392.5,230.7 394.0,231.3 395.5,232.0 397.0,232.6 398.5,233.2 399.8,233.5 399.9,233.5 400.0,233.5 400.0,233.5 400.1,233.5 400.3,233.5 400.4,233.5 400.5,233.5 400.6,233.4 400.7,233.4 400.9,233.3 401.0,233.2 401.1,233.1 401.2,232.9 401.3,232.8 401.5,232.6 401.6,232.4 401.7,232.1 401.8,231.8 401.9,231.5 402.1,231.1 402.2,230.6 402.3,230.0 402.4,229.4 402.5,228.6 402.7,227.8 402.8,226.7 402.9,225.4 403.0,224.6 403.0,223.7 403.1,221.3 403.2,218.2 403.4,215.5 403.5,217.9 403.6,220.7 403.7,222.9 403.8,224.5 404.0,225.8 404.1,226.8 404.2,227.8 404.3,228.6 404.4,229.3 404.6,230.0 404.7,230.5 404.8,231.1 404.9,231.6 405.0,232.1 405.2,232.5 405.3,232.9 405.4,233.2 405.5,233.6 405.6,233.9 405.8,234.1 405.9,234.4 405.9,234.5 406.0,234.6 406.1,234.9 406.2,235.1 406.4,235.3 406.5,235.5 406.6,235.6 406.7,235.8 406.8,236.0 406.9,236.1 407.4,236.6 408.9,237.7 410.4,238.6 411.9,239.3 413.4,239.9 414.9,240.6 416.4,241.3 417.9,241.9 419.4,242.6 420.8,243.3 422.3,243.9 423.8,244.6 425.3,245.2 426.8,245.9 428.3,246.6 429.8,247.2 431.3,247.9" fill="none" stroke="#1b2a55" stroke-width="0.45"/>
<line x1="371.6" y1="222.9" x2="431.3" y2="249.4" stroke="#b4bfcc" stroke-width="0.5"/>
<line x1="371.6" y1="221.4" x2="431.3" y2="247.9" stroke="#333d62" stroke-width="0.6"/>
<polygon points="356.9,222.3 358.4,223.0 359.9,223.6 361.4,224.3 362.9,225.0 364.5,225.6 366.0,226.3 367.5,227.0 369.0,227.6 370.5,228.3 372.0,229.0 373.5,229.7 375.1,230.3 376.6,231.0 378.1,231.7 379.6,232.3 381.1,233.0 382.6,233.7 384.1,234.3 385.4,234.8 385.5,234.9 385.7,234.9 385.8,234.9 385.9,235.0 386.0,235.0 386.1,235.0 386.3,235.1 386.4,235.1 386.5,235.1 386.6,235.1 386.7,235.1 386.9,235.1 387.0,235.1 387.1,235.1 387.2,235.1 387.2,235.1 387.4,235.0 387.5,234.9 387.6,234.8 387.7,234.7 387.8,234.5 388.0,234.3 388.1,234.0 388.2,233.6 388.3,233.0 388.4,232.3 388.6,231.2 388.7,229.6 388.8,226.8 388.9,222.8 389.0,219.8 389.2,222.8 389.3,226.8 389.4,229.5 389.5,231.3 389.7,232.4 389.8,233.2 389.9,233.9 390.0,234.4 390.1,234.8 390.2,235.0 390.3,235.2 390.4,235.5 390.5,235.7 390.6,236.0 390.7,236.2 390.9,236.4 391.0,236.5 391.1,236.7 391.2,236.8 391.4,237.0 391.5,237.1 391.6,237.2 391.7,237.3 391.8,237.4 392.0,237.5 392.1,237.6 392.2,237.7 392.3,237.7 392.4,237.8 392.6,237.9 392.7,238.0 393.2,238.3 394.7,239.0 396.3,239.7 397.8,240.3 399.3,241.0 400.8,241.7 402.3,242.4 403.8,243.0 405.3,243.7 406.9,244.4 408.4,245.0 409.9,245.7 411.4,246.4 412.9,247.0 414.4,247.7 415.9,248.4 417.5,249.0 417.5,249.1 356.9,222.3" fill="#c81a2c"/>
<polygon points="356.9,222.3 358.4,223.0 359.9,223.6 361.4,224.3 362.9,225.0 364.5,225.6 366.0,226.3 367.5,227.0 369.0,227.6 370.5,228.3 372.0,229.0 373.5,229.7 375.1,230.3 376.6,231.0 378.1,231.7 379.6,232.3 381.1,233.0 382.6,233.7 384.1,234.3 385.4,234.9 385.5,234.9 385.7,235.0 385.8,235.0 385.9,235.0 386.0,235.1 386.1,235.1 386.3,235.2 386.4,235.2 386.5,235.2 386.6,235.3 386.7,235.3 386.9,235.3 387.0,235.3 387.1,235.3 387.2,235.3 387.2,235.3 387.4,235.3 387.5,235.3 387.6,235.2 387.7,235.1 387.8,235.1 388.0,234.9 388.1,234.8 388.2,234.6 388.3,234.4 388.4,234.1 388.6,233.7 388.7,233.1 388.8,232.4 388.9,231.4 389.0,230.5 389.2,231.4 389.3,232.4 389.4,233.2 389.5,233.8 389.7,234.2 389.8,234.6 389.9,235.0 390.0,235.3 390.1,235.5 390.2,235.7 390.3,235.8 390.4,236.0 390.5,236.2 390.6,236.4 390.7,236.5 390.9,236.7 391.0,236.8 391.1,236.9 391.2,237.0 391.4,237.1 391.5,237.2 391.6,237.3 391.7,237.4 391.8,237.5 392.0,237.6 392.1,237.7 392.2,237.7 392.3,237.8 392.4,237.9 392.6,238.0 392.7,238.0 393.2,238.3 394.7,239.0 396.3,239.7 397.8,240.4 399.3,241.0 400.8,241.7 402.3,242.4 403.8,243.0 405.3,243.7 406.9,244.4 408.4,245.0 409.9,245.7 411.4,246.4 412.9,247.0 414.4,247.7 415.9,248.4 417.5,249.0 417.5,249.1 356.9,222.3" fill="#2e6a9c"/>
<polyline points="356.9,222.3 358.4,223.0 359.9,223.6 361.4,224.3 362.9,225.0 364.5,225.6 366.0,226.3 367.5,227.0 369.0,227.6 370.5,228.3 372.0,229.0 373.5,229.7 375.1,230.3 376.6,231.0 378.1,231.7 379.6,232.3 381.1,233.0 382.6,233.7 384.1,234.3 385.4,234.9 385.5,234.9 385.7,235.0 385.8,235.0 385.9,235.0 386.0,235.1 386.1,235.1 386.3,235.2 386.4,235.2 386.5,235.2 386.6,235.3 386.7,235.3 386.9,235.3 387.0,235.3 387.1,235.3 387.2,235.3 387.2,235.3 387.4,235.3 387.5,235.3 387.6,235.2 387.7,235.1 387.8,235.1 388.0,234.9 388.1,234.8 388.2,234.6 388.3,234.4 388.4,234.1 388.6,233.7 388.7,233.1 388.8,232.4 388.9,231.4 389.0,230.5 389.2,231.4 389.3,232.4 389.4,233.2 389.5,233.8 389.7,234.2 389.8,234.6 389.9,235.0 390.0,235.3 390.1,235.5 390.2,235.7 390.3,235.8 390.4,236.0 390.5,236.2 390.6,236.4 390.7,236.5 390.9,236.7 391.0,236.8 391.1,236.9 391.2,237.0 391.4,237.1 391.5,237.2 391.6,237.3 391.7,237.4 391.8,237.5 392.0,237.6 392.1,237.7 392.2,237.7 392.3,237.8 392.4,237.9 392.6,238.0 392.7,238.0 393.2,238.3 394.7,239.0 396.3,239.7 397.8,240.4 399.3,241.0 400.8,241.7 402.3,242.4 403.8,243.0 405.3,243.7 406.9,244.4 408.4,245.0 409.9,245.7 411.4,246.4 412.9,247.0 414.4,247.7 415.9,248.4 417.5,249.0" fill="none" stroke="#1b2a55" stroke-width="0.45"/>
<line x1="356.9" y1="223.8" x2="417.5" y2="250.6" stroke="#b4bfcc" stroke-width="0.5"/>
<line x1="356.9" y1="222.3" x2="417.5" y2="249.1" stroke="#333d62" stroke-width="0.6"/>
<polygon points="342.1,223.2 343.7,223.9 345.2,224.5 346.7,225.2 348.3,225.9 349.8,226.6 351.3,227.2 352.9,227.9 354.4,228.6 356.0,229.3 357.5,229.9 359.0,230.6 360.6,231.3 362.1,232.0 363.7,232.6 365.2,233.3 366.7,234.0 368.3,234.7 369.8,235.3 370.7,235.7 370.8,235.7 370.9,235.8 371.0,235.8 371.2,235.9 371.3,235.9 371.3,236.0 371.4,236.0 371.5,236.0 371.6,236.1 371.8,236.1 371.9,236.2 372.0,236.2 372.1,236.2 372.3,236.3 372.4,236.3 372.5,236.3 372.6,236.3 372.8,236.3 372.9,236.3 373.0,236.3 373.1,236.3 373.2,236.2 373.4,236.1 373.5,235.9 373.6,235.7 373.7,235.4 373.9,234.8 374.0,234.0 374.1,232.5 374.2,230.3 374.4,228.6 374.4,229.2 374.5,230.3 374.6,232.6 374.7,234.2 374.8,235.1 375.0,235.8 375.1,236.2 375.2,236.6 375.3,236.8 375.5,237.0 375.6,237.2 375.7,237.4 375.8,237.5 376.0,237.6 376.1,237.8 376.2,237.9 376.3,238.0 376.4,238.0 376.6,238.1 376.7,238.2 376.8,238.3 376.9,238.4 377.1,238.4 377.2,238.5 377.3,238.6 377.4,238.6 377.5,238.7 377.6,238.7 377.7,238.7 377.8,238.8 377.9,238.9 378.0,238.9 379.0,239.4 380.6,240.1 382.1,240.7 383.6,241.4 385.2,242.1 386.7,242.8 388.3,243.4 389.8,244.1 391.3,244.8 392.9,245.5 394.4,246.1 395.9,246.8 397.5,247.5 399.0,248.2 400.6,248.8 402.1,249.5 403.6,250.2 403.6,250.2 342.1,223.2" fill="#c81a2c"/>
<polygon points="342.1,223.2 343.7,223.9 345.2,224.5 346.7,225.2 348.3,225.9 349.8,226.6 351.3,227.2 352.9,227.9 354.4,228.6 356.0,229.3 357.5,229.9 359.0,230.6 360.6,231.3 362.1,232.0 363.7,232.6 365.2,233.3 366.7,234.0 368.3,234.7 369.8,235.3 370.7,235.7 370.8,235.8 370.9,235.8 371.0,235.9 371.2,235.9 371.3,236.0 371.3,236.0 371.4,236.0 371.5,236.1 371.6,236.1 371.8,236.2 371.9,236.2 372.0,236.3 372.1,236.3 372.3,236.4 372.4,236.4 372.5,236.4 372.6,236.5 372.8,236.5 372.9,236.5 373.0,236.5 373.1,236.5 373.2,236.5 373.4,236.5 373.5,236.5 373.6,236.4 373.7,236.3 373.9,236.2 374.0,236.0 374.1,235.7 374.2,235.2 374.4,234.8 374.4,235.0 374.5,235.3 374.6,235.8 374.7,236.2 374.8,236.5 375.0,236.7 375.1,236.9 375.2,237.1 375.3,237.3 375.5,237.4 375.6,237.5 375.7,237.6 375.8,237.7 376.0,237.8 376.1,237.9 376.2,238.0 376.3,238.1 376.4,238.1 376.6,238.2 376.7,238.3 376.8,238.4 376.9,238.4 377.1,238.5 377.2,238.5 377.3,238.6 377.4,238.7 377.5,238.7 377.6,238.7 377.7,238.8 377.8,238.8 377.9,238.9 378.0,239.0 379.0,239.4 380.6,240.1 382.1,240.7 383.6,241.4 385.2,242.1 386.7,242.8 388.3,243.4 389.8,244.1 391.3,244.8 392.9,245.5 394.4,246.1 395.9,246.8 397.5,247.5 399.0,248.2 400.6,248.8 402.1,249.5 403.6,250.2 403.6,250.2 342.1,223.2" fill="#2e6a9c"/>
<polyline points="342.1,223.2 343.7,223.9 345.2,224.5 346.7,225.2 348.3,225.9 349.8,226.6 351.3,227.2 352.9,227.9 354.4,228.6 356.0,229.3 357.5,229.9 359.0,230.6 360.6,231.3 362.1,232.0 363.7,232.6 365.2,233.3 366.7,234.0 368.3,234.7 369.8,235.3 370.7,235.7 370.8,235.8 370.9,235.8 371.0,235.9 371.2,235.9 371.3,236.0 371.3,236.0 371.4,236.0 371.5,236.1 371.6,236.1 371.8,236.2 371.9,236.2 372.0,236.3 372.1,236.3 372.3,236.4 372.4,236.4 372.5,236.4 372.6,236.5 372.8,236.5 372.9,236.5 373.0,236.5 373.1,236.5 373.2,236.5 373.4,236.5 373.5,236.5 373.6,236.4 373.7,236.3 373.9,236.2 374.0,236.0 374.1,235.7 374.2,235.2 374.4,234.8 374.4,235.0 374.5,235.3 374.6,235.8 374.7,236.2 374.8,236.5 375.0,236.7 375.1,236.9 375.2,237.1 375.3,237.3 375.5,237.4 375.6,237.5 375.7,237.6 375.8,237.7 376.0,237.8 376.1,237.9 376.2,238.0 376.3,238.1 376.4,238.1 376.6,238.2 376.7,238.3 376.8,238.4 376.9,238.4 377.1,238.5 377.2,238.5 377.3,238.6 377.4,238.7 377.5,238.7 377.6,238.7 377.7,238.8 377.8,238.8 377.9,238.9 378.0,239.0 379.0,239.4 380.6,240.1 382.1,240.7 383.6,241.4 385.2,242.1 386.7,242.8 388.3,243.4 389.8,244.1 391.3,244.8 392.9,245.5 394.4,246.1 395.9,246.8 397.5,247.5 399.0,248.2 400.6,248.8 402.1,249.5 403.6,250.2" fill="none" stroke="#1b2a55" stroke-width="0.45"/>
<line x1="342.1" y1="224.7" x2="403.6" y2="251.7" stroke="#b4bfcc" stroke-width="0.5"/>
<line x1="342.1" y1="223.2" x2="403.6" y2="250.2" stroke="#333d62" stroke-width="0.6"/>
<polygon points="327.4,224.1 328.9,224.8 330.5,225.5 332.0,226.1 333.6,226.8 335.2,227.5 336.7,228.2 338.3,228.9 339.9,229.5 341.4,230.2 343.0,230.9 344.5,231.6 346.1,232.3 347.7,233.0 349.2,233.6 350.8,234.3 352.3,235.0 353.9,235.7 355.0,236.1 355.1,236.2 355.2,236.2 355.3,236.3 355.5,236.3 355.6,236.4 355.7,236.4 355.8,236.5 356.0,236.5 356.1,236.6 356.2,236.6 356.3,236.7 356.5,236.7 356.6,236.8 356.7,236.8 356.8,236.9 357.0,236.9 357.0,236.9 357.1,236.9 357.2,237.0 357.3,237.0 357.5,237.0 357.6,237.0 357.7,237.0 357.8,236.9 358.0,236.8 358.1,236.7 358.2,236.4 358.3,236.0 358.5,235.2 358.6,234.0 358.7,233.0 358.8,234.0 359.0,235.3 359.1,236.2 359.2,236.8 359.3,237.1 359.5,237.4 359.6,237.6 359.7,237.8 359.8,237.9 360.0,238.0 360.1,238.1 360.2,238.2 360.2,238.2 360.3,238.3 360.5,238.4 360.6,238.5 360.7,238.6 360.8,238.6 361.0,238.7 361.1,238.8 361.2,238.8 361.3,238.9 361.5,238.9 361.6,239.0 361.7,239.1 361.8,239.1 362.0,239.2 362.1,239.2 362.2,239.3 362.3,239.3 362.5,239.4 363.3,239.8 364.8,240.4 366.4,241.1 368.0,241.8 369.5,242.5 371.1,243.2 372.6,243.9 374.2,244.5 375.8,245.2 377.3,245.9 378.9,246.6 380.5,247.3 382.0,247.9 383.6,248.6 385.1,249.3 386.7,250.0 388.3,250.7 389.8,251.3 389.8,251.3 327.4,224.1" fill="#c81a2c"/>
<polygon points="327.4,224.1 328.9,224.8 330.5,225.5 332.0,226.1 333.6,226.8 335.2,227.5 336.7,228.2 338.3,228.9 339.9,229.5 341.4,230.2 343.0,230.9 344.5,231.6 346.1,232.3 347.7,233.0 349.2,233.6 350.8,234.3 352.3,235.0 353.9,235.7 355.0,236.1 355.1,236.2 355.2,236.3 355.3,236.3 355.5,236.4 355.6,236.4 355.7,236.5 355.8,236.5 356.0,236.6 356.1,236.6 356.2,236.7 356.3,236.7 356.5,236.8 356.6,236.8 356.7,236.9 356.8,236.9 357.0,237.0 357.0,237.0 357.1,237.0 357.2,237.1 357.3,237.1 357.5,237.2 357.6,237.2 357.7,237.2 357.8,237.2 358.0,237.2 358.1,237.2 358.2,237.2 358.3,237.1 358.5,237.0 358.6,236.7 358.7,236.5 358.8,236.8 359.0,237.1 359.1,237.4 359.2,237.6 359.3,237.7 359.5,237.8 359.6,237.9 359.7,238.0 359.8,238.1 360.0,238.2 360.1,238.3 360.2,238.3 360.2,238.4 360.3,238.4 360.5,238.5 360.6,238.6 360.7,238.6 360.8,238.7 361.0,238.7 361.1,238.8 361.2,238.9 361.3,238.9 361.5,239.0 361.6,239.0 361.7,239.1 361.8,239.1 362.0,239.2 362.1,239.2 362.2,239.3 362.3,239.4 362.5,239.4 363.3,239.8 364.8,240.4 366.4,241.1 368.0,241.8 369.5,242.5 371.1,243.2 372.6,243.9 374.2,244.5 375.8,245.2 377.3,245.9 378.9,246.6 380.5,247.3 382.0,247.9 383.6,248.6 385.1,249.3 386.7,250.0 388.3,250.7 389.8,251.3 389.8,251.3 327.4,224.1" fill="#2e6a9c"/>
<polyline points="327.4,224.1 328.9,224.8 330.5,225.5 332.0,226.1 333.6,226.8 335.2,227.5 336.7,228.2 338.3,228.9 339.9,229.5 341.4,230.2 343.0,230.9 344.5,231.6 346.1,232.3 347.7,233.0 349.2,233.6 350.8,234.3 352.3,235.0 353.9,235.7 355.0,236.1 355.1,236.2 355.2,236.3 355.3,236.3 355.5,236.4 355.6,236.4 355.7,236.5 355.8,236.5 356.0,236.6 356.1,236.6 356.2,236.7 356.3,236.7 356.5,236.8 356.6,236.8 356.7,236.9 356.8,236.9 357.0,237.0 357.0,237.0 357.1,237.0 357.2,237.1 357.3,237.1 357.5,237.2 357.6,237.2 357.7,237.2 357.8,237.2 358.0,237.2 358.1,237.2 358.2,237.2 358.3,237.1 358.5,237.0 358.6,236.7 358.7,236.5 358.8,236.8 359.0,237.1 359.1,237.4 359.2,237.6 359.3,237.7 359.5,237.8 359.6,237.9 359.7,238.0 359.8,238.1 360.0,238.2 360.1,238.3 360.2,238.3 360.2,238.4 360.3,238.4 360.5,238.5 360.6,238.6 360.7,238.6 360.8,238.7 361.0,238.7 361.1,238.8 361.2,238.9 361.3,238.9 361.5,239.0 361.6,239.0 361.7,239.1 361.8,239.1 362.0,239.2 362.1,239.2 362.2,239.3 362.3,239.4 362.5,239.4 363.3,239.8 364.8,240.4 366.4,241.1 368.0,241.8 369.5,242.5 371.1,243.2 372.6,243.9 374.2,244.5 375.8,245.2 377.3,245.9 378.9,246.6 380.5,247.3 382.0,247.9 383.6,248.6 385.1,249.3 386.7,250.0 388.3,250.7 389.8,251.3" fill="none" stroke="#1b2a55" stroke-width="0.45"/>
<line x1="327.4" y1="225.6" x2="389.8" y2="252.8" stroke="#b4bfcc" stroke-width="0.5"/>
<line x1="327.4" y1="224.1" x2="389.8" y2="251.3" stroke="#333d62" stroke-width="0.6"/>
<polygon points="312.6,225.0 314.2,225.7 315.8,226.4 317.4,227.1 318.9,227.7 320.5,228.4 322.1,229.1 323.7,229.8 325.3,230.5 326.9,231.2 328.5,231.9 330.0,232.6 331.6,233.2 333.2,233.9 334.8,234.6 336.4,235.3 338.0,236.0 339.5,236.7 340.5,237.1 340.6,237.2 340.7,237.2 340.9,237.3 341.0,237.3 341.1,237.4 341.3,237.4 341.4,237.5 341.5,237.5 341.6,237.6 341.8,237.6 341.9,237.7 342.0,237.7 342.1,237.8 342.3,237.9 342.4,237.9 342.5,238.0 342.7,238.0 342.7,238.0 342.8,238.1 342.9,238.1 343.0,238.1 343.2,238.2 343.3,238.2 343.4,238.2 343.5,238.2 343.7,238.2 343.8,238.2 343.9,238.0 344.0,237.8 344.2,237.4 344.3,237.1 344.4,237.5 344.6,238.0 344.7,238.3 344.8,238.5 344.9,238.7 345.1,238.8 345.2,238.9 345.3,239.0 345.4,239.1 345.6,239.2 345.7,239.3 345.8,239.3 345.9,239.4 345.9,239.4 346.1,239.5 346.2,239.5 346.3,239.6 346.5,239.7 346.6,239.7 346.7,239.8 346.8,239.8 347.0,239.9 347.1,239.9 347.2,240.0 347.3,240.1 347.5,240.1 347.6,240.2 347.7,240.2 347.9,240.3 348.0,240.3 348.1,240.4 349.1,240.8 350.6,241.5 352.2,242.2 353.8,242.9 355.4,243.6 357.0,244.2 358.6,244.9 360.1,245.6 361.7,246.3 363.3,247.0 364.9,247.7 366.5,248.4 368.1,249.1 369.7,249.7 371.2,250.4 372.8,251.1 374.4,251.8 376.0,252.5 376.0,252.5 312.6,225.0" fill="#c81a2c"/>
<polygon points="312.6,225.0 314.2,225.7 315.8,226.4 317.4,227.1 318.9,227.7 320.5,228.4 322.1,229.1 323.7,229.8 325.3,230.5 326.9,231.2 328.5,231.9 330.0,232.6 331.6,233.2 333.2,233.9 334.8,234.6 336.4,235.3 338.0,236.0 339.5,236.7 340.5,237.1 340.6,237.2 340.7,237.2 340.9,237.3 341.0,237.3 341.1,237.4 341.3,237.4 341.4,237.5 341.5,237.5 341.6,237.6 341.8,237.6 341.9,237.7 342.0,237.8 342.1,237.8 342.3,237.9 342.4,237.9 342.5,238.0 342.7,238.0 342.7,238.0 342.8,238.1 342.9,238.1 343.0,238.2 343.2,238.2 343.3,238.3 343.4,238.3 343.5,238.3 343.7,238.4 343.8,238.4 343.9,238.3 344.0,238.3 344.2,238.1 344.3,238.0 344.4,238.2 344.6,238.5 344.7,238.6 344.8,238.8 344.9,238.9 345.1,239.0 345.2,239.0 345.3,239.1 345.4,239.2 345.6,239.3 345.7,239.3 345.8,239.4 345.9,239.4 345.9,239.4 346.1,239.5 346.2,239.6 346.3,239.6 346.5,239.7 346.6,239.7 346.7,239.8 346.8,239.8 347.0,239.9 347.1,240.0 347.2,240.0 347.3,240.1 347.5,240.1 347.6,240.2 347.7,240.2 347.9,240.3 348.0,240.3 348.1,240.4 349.1,240.8 350.6,241.5 352.2,242.2 353.8,242.9 355.4,243.6 357.0,244.2 358.6,244.9 360.1,245.6 361.7,246.3 363.3,247.0 364.9,247.7 366.5,248.4 368.1,249.1 369.7,249.7 371.2,250.4 372.8,251.1 374.4,251.8 376.0,252.5 376.0,252.5 312.6,225.0" fill="#2e6a9c"/>
<polyline points="312.6,225.0 314.2,225.7 315.8,226.4 317.4,227.1 318.9,227.7 320.5,228.4 322.1,229.1 323.7,229.8 325.3,230.5 326.9,231.2 328.5,231.9 330.0,232.6 331.6,233.2 333.2,233.9 334.8,234.6 336.4,235.3 338.0,236.0 339.5,236.7 340.5,237.1 340.6,237.2 340.7,237.2 340.9,237.3 341.0,237.3 341.1,237.4 341.3,237.4 341.4,237.5 341.5,237.5 341.6,237.6 341.8,237.6 341.9,237.7 342.0,237.8 342.1,237.8 342.3,237.9 342.4,237.9 342.5,238.0 342.7,238.0 342.7,238.0 342.8,238.1 342.9,238.1 343.0,238.2 343.2,238.2 343.3,238.3 343.4,238.3 343.5,238.3 343.7,238.4 343.8,238.4 343.9,238.3 344.0,238.3 344.2,238.1 344.3,238.0 344.4,238.2 344.6,238.5 344.7,238.6 344.8,238.8 344.9,238.9 345.1,239.0 345.2,239.0 345.3,239.1 345.4,239.2 345.6,239.3 345.7,239.3 345.8,239.4 345.9,239.4 345.9,239.4 346.1,239.5 346.2,239.6 346.3,239.6 346.5,239.7 346.6,239.7 346.7,239.8 346.8,239.8 347.0,239.9 347.1,240.0 347.2,240.0 347.3,240.1 347.5,240.1 347.6,240.2 347.7,240.2 347.9,240.3 348.0,240.3 348.1,240.4 349.1,240.8 350.6,241.5 352.2,242.2 353.8,242.9 355.4,243.6 357.0,244.2 358.6,244.9 360.1,245.6 361.7,246.3 363.3,247.0 364.9,247.7 366.5,248.4 368.1,249.1 369.7,249.7 371.2,250.4 372.8,251.1 374.4,251.8 376.0,252.5" fill="none" stroke="#1b2a55" stroke-width="0.45"/>
<line x1="312.6" y1="226.5" x2="376.0" y2="254.0" stroke="#b4bfcc" stroke-width="0.5"/>
<line x1="312.6" y1="225.0" x2="376.0" y2="252.5" stroke="#333d62" stroke-width="0.6"/>
<rect x="422.4" y="152.1" width="13.6" height="4.4" fill="#c81a2c" stroke="#a01020" stroke-width="0.3"/>
<rect x="422.6" y="161.2" width="13.2" height="4.0" fill="#2e6a9c" stroke="#1b2a55" stroke-width="0.6"/>
<text x="439" y="156.6" font-family="'Liberation Sans', sans-serif" font-size="4" fill="#444">S<tspan font-size="2.8" dy="0.8">21</tspan></text>
<text x="439" y="165.4" font-family="'Liberation Sans', sans-serif" font-size="4" fill="#444">S<tspan font-size="2.8" dy="0.8">12</tspan></text>
<polygon points="328.0,158.8 410.8,157.6 410.8,192.0 328.0,186.5" fill="#fff"/>
<polygon points="328.0,176.0 346.4,183.7 346.4,191.3 328.0,182.8" fill="#2e6a9c"/>
<line x1="328" y1="176" x2="346.4" y2="183.7" stroke="#1b2a55" stroke-width="0.35"/>
<polygon points="331.7,177.4 331.8,177.5 332.0,177.5 332.1,177.6 332.3,177.7 332.4,177.7 332.6,177.8 332.8,177.8 332.9,177.9 333.1,177.9 333.2,178.0 333.3,178.0 333.5,178.1 333.6,178.1 333.8,178.2 333.9,178.2 334.1,178.2 334.2,178.3 334.4,178.3 334.6,178.3 334.7,178.4 334.8,178.4 335.0,178.4 335.1,178.4 335.3,178.4 335.4,178.4 335.6,178.3 335.8,178.2 335.9,178.2 336.1,178.0 336.2,177.8 336.3,177.6 336.5,177.3 336.6,176.8 336.8,176.1 336.9,175.3 337.1,174.1 337.2,172.5 337.4,170.7 337.6,169.2 337.7,168.6 337.8,169.3 338.0,171.0 338.1,172.9 338.3,174.6 338.4,175.9 338.6,176.9 338.8,177.7 338.9,178.3 339.1,178.7 339.2,179.1 339.3,179.4 339.5,179.7 339.6,179.9 339.8,180.1 339.9,180.2 340.1,180.4 340.2,180.5 340.4,180.6 340.6,180.8 340.7,180.9 340.8,181.0 341.0,181.1 341.1,181.2 341.3,181.3 341.4,181.3 341.6,181.4 341.8,181.5 341.9,181.6 342.1,181.7 342.2,181.7 342.3,181.8 342.5,181.9 342.6,182.0 342.8,182.0 342.9,182.1 343.1,182.2 343.2,182.2 343.4,182.3 343.6,182.4 343.7,182.5" fill="#c81a2c"/>
<line x1="328" y1="158.8" x2="328" y2="183.1" stroke="#aaa" stroke-width="0.4"/>
<line x1="328" y1="163.8" x2="346.4" y2="165.3" stroke="#bbb" stroke-width="0.3"/>
<line x1="328" y1="182.8" x2="346.4" y2="191.3" stroke="#888" stroke-width="0.4"/>
<polygon points="346.4,178.0 362.0,184.6 362.0,190.4 346.4,181.8" fill="#2e6a9c"/>
<line x1="346.4" y1="178" x2="362" y2="184.6" stroke="#1b2a55" stroke-width="0.35"/>
<polygon points="347.2,178.1 347.3,178.2 347.5,178.3 347.6,178.3 347.8,178.4 347.9,178.4 348.1,178.5 348.2,178.5 348.4,178.5 348.6,178.6 348.7,178.6 348.8,178.7 349.0,178.7 349.1,178.7 349.3,178.8 349.4,178.8 349.6,178.8 349.8,178.8 349.9,178.9 350.1,178.9 350.2,178.9 350.3,178.8 350.5,178.8 350.6,178.8 350.8,178.7 350.9,178.6 351.1,178.5 351.2,178.4 351.4,178.2 351.6,177.9 351.7,177.6 351.8,177.1 352.0,176.5 352.1,175.6 352.3,174.5 352.4,172.9 352.6,170.9 352.8,168.2 352.9,165.2 353.1,162.5 353.2,161.4 353.3,162.6 353.5,165.4 353.6,168.6 353.8,171.4 353.9,173.6 354.1,175.3 354.2,176.5 354.4,177.5 354.6,178.2 354.7,178.8 354.8,179.3 355.0,179.7 355.1,180.0 355.3,180.3 355.4,180.5 355.6,180.7 355.8,180.9 355.9,181.1 356.1,181.3 356.2,181.4 356.3,181.5 356.5,181.6 356.6,181.8 356.8,181.9 356.9,182.0 357.1,182.1 357.2,182.2 357.4,182.3 357.6,182.4 357.7,182.4 357.8,182.5 358.0,182.6 358.1,182.7 358.3,182.8 358.4,182.8 358.6,182.9 358.8,183.0 358.9,183.1 359.1,183.1 359.2,183.2" fill="#c81a2c"/>
<line x1="346.4" y1="158.5" x2="346.4" y2="182.1" stroke="#aaa" stroke-width="0.4"/>
<line x1="346.4" y1="163.5" x2="362" y2="165.0" stroke="#bbb" stroke-width="0.3"/>
<line x1="346.4" y1="181.8" x2="362" y2="190.4" stroke="#888" stroke-width="0.4"/>
<polygon points="362.0,179.0 377.5,185.6 377.5,190.4 362.0,182.0" fill="#2e6a9c"/>
<line x1="362" y1="179" x2="377.5" y2="185.6" stroke="#1b2a55" stroke-width="0.35"/>
<polygon points="365.5,180.3 365.6,180.4 365.8,180.4 365.9,180.5 366.1,180.6 366.2,180.6 366.4,180.7 366.6,180.7 366.7,180.8 366.9,180.8 367.0,180.9 367.1,180.9 367.3,180.9 367.4,181.0 367.6,181.0 367.8,181.1 367.9,181.1 368.1,181.1 368.2,181.1 368.4,181.2 368.5,181.2 368.6,181.2 368.8,181.2 368.9,181.1 369.1,181.1 369.2,181.1 369.4,181.0 369.6,180.9 369.7,180.7 369.9,180.5 370.0,180.3 370.1,179.9 370.3,179.4 370.4,178.8 370.6,177.9 370.8,176.7 370.9,175.0 371.1,172.9 371.2,170.5 371.4,168.4 371.5,167.5 371.6,168.5 371.8,170.8 371.9,173.3 372.1,175.6 372.2,177.3 372.4,178.7 372.6,179.7 372.7,180.5 372.9,181.1 373.0,181.5 373.1,181.9 373.3,182.3 373.4,182.5 373.6,182.8 373.8,183.0 373.9,183.2 374.1,183.3 374.2,183.5 374.4,183.6 374.5,183.7 374.6,183.8 374.8,184.0 374.9,184.1 375.1,184.2 375.2,184.3 375.4,184.3 375.6,184.4 375.7,184.5 375.9,184.6 376.0,184.7 376.1,184.8 376.3,184.9 376.4,184.9 376.6,185.0 376.8,185.1 376.9,185.2 377.1,185.2 377.2,185.3 377.4,185.4 377.5,185.4" fill="#c81a2c"/>
<line x1="362" y1="158.3" x2="362" y2="182.3" stroke="#aaa" stroke-width="0.4"/>
<line x1="362" y1="163.3" x2="377.5" y2="164.8" stroke="#bbb" stroke-width="0.3"/>
<line x1="362" y1="182.0" x2="377.5" y2="190.4" stroke="#888" stroke-width="0.4"/>
<polygon points="377.5,180.8 393.6,185.6 393.6,188.5 377.5,182.7" fill="#2e6a9c"/>
<line x1="377.5" y1="180.8" x2="393.6" y2="185.6" stroke="#1b2a55" stroke-width="0.35"/>
<polygon points="381.8,181.9 381.9,181.9 382.1,182.0 382.2,182.0 382.4,182.0 382.6,182.0 382.7,182.1 382.9,182.1 383.0,182.1 383.2,182.2 383.3,182.2 383.4,182.2 383.6,182.2 383.8,182.2 383.9,182.2 384.1,182.3 384.2,182.3 384.4,182.3 384.5,182.2 384.7,182.2 384.8,182.2 384.9,182.2 385.1,182.1 385.2,182.1 385.4,182.0 385.6,181.9 385.7,181.7 385.9,181.6 386.0,181.3 386.2,181.0 386.3,180.7 386.4,180.2 386.6,179.5 386.8,178.6 386.9,177.4 387.1,175.8 387.2,173.7 387.4,170.9 387.5,167.8 387.7,165.0 387.8,163.9 387.9,165.1 388.1,168.0 388.2,171.2 388.4,174.0 388.6,176.3 388.7,178.0 388.9,179.3 389.0,180.2 389.2,181.0 389.3,181.6 389.4,182.0 389.6,182.4 389.8,182.7 389.9,183.0 390.1,183.2 390.2,183.4 390.4,183.6 390.5,183.7 390.7,183.9 390.8,184.0 390.9,184.1 391.1,184.2 391.2,184.3 391.4,184.4 391.6,184.5 391.7,184.6 391.9,184.6 392.0,184.7 392.2,184.8 392.3,184.9 392.4,184.9 392.6,185.0 392.8,185.1 392.9,185.1 393.1,185.2 393.2,185.2 393.4,185.3 393.5,185.4 393.7,185.4 393.8,185.5" fill="#c81a2c"/>
<polygon points="381.8,183.0 381.9,183.0 382.1,183.0 382.2,183.0 382.4,183.0 382.6,183.1 382.7,183.1 382.9,183.1 383.0,183.1 383.2,183.1 383.3,183.1 383.4,183.1 383.6,183.1 383.8,183.1 383.9,183.1 384.1,183.1 384.2,183.1 384.4,183.1 384.5,183.1 384.7,183.1 384.8,183.1 384.9,183.1 385.1,183.1 385.2,183.1 385.4,183.0 385.6,183.0 385.7,182.9 385.9,182.8 386.0,182.7 386.2,182.6 386.3,182.4 386.4,182.2 386.6,181.9 386.8,181.5 386.9,181.0 387.1,180.3 387.2,179.3 387.4,178.1 387.5,176.6 387.7,175.4 387.8,174.9 387.9,175.4 388.1,176.7 388.2,178.2 388.4,179.5 388.6,180.5 388.7,181.2 388.9,181.8 389.0,182.2 389.2,182.6 389.3,182.8 389.4,183.0 389.6,183.2 389.8,183.4 389.9,183.5 390.1,183.6 390.2,183.7 390.4,183.7 390.5,183.8 390.7,183.9 390.8,183.9 390.9,184.0 391.1,184.0 391.2,184.1 391.4,184.1 391.6,184.1 391.7,184.2 391.9,184.2 392.0,184.3 392.2,184.3 392.3,184.3 392.4,184.3 392.6,184.4 392.8,184.4 392.9,184.4 393.1,184.5 393.2,184.5 393.4,184.5 393.5,184.5 393.7,184.6 393.8,184.6" fill="#1b2a55"/>
<line x1="377.5" y1="158.1" x2="377.5" y2="183.0" stroke="#aaa" stroke-width="0.4"/>
<line x1="377.5" y1="163.1" x2="393.6" y2="164.6" stroke="#bbb" stroke-width="0.3"/>
<line x1="377.5" y1="182.7" x2="393.6" y2="188.5" stroke="#888" stroke-width="0.4"/>
<polygon points="393.6,180.8 410.8,185.6 410.8,190.4 393.6,182.7" fill="#2e6a9c"/>
<line x1="393.6" y1="180.8" x2="410.8" y2="185.6" stroke="#1b2a55" stroke-width="0.35"/>
<polygon points="398.6,181.7 398.8,181.7 398.9,181.7 399.1,181.7 399.2,181.7 399.4,181.8 399.5,181.8 399.7,181.8 399.8,181.8 400.0,181.8 400.1,181.7 400.2,181.7 400.4,181.7 400.6,181.7 400.7,181.6 400.9,181.6 401.0,181.5 401.2,181.5 401.3,181.4 401.5,181.3 401.6,181.2 401.8,181.0 401.9,180.9 402.1,180.7 402.2,180.5 402.4,180.2 402.5,179.9 402.7,179.5 402.8,179.0 403.0,178.4 403.1,177.8 403.2,176.9 403.4,176.0 403.6,174.8 403.7,173.4 403.9,171.8 404.0,170.1 404.2,168.4 404.3,166.8 404.5,165.7 404.6,165.4 404.8,165.8 404.9,167.0 405.1,168.6 405.2,170.4 405.4,172.2 405.5,173.9 405.7,175.4 405.8,176.6 406.0,177.7 406.1,178.6 406.2,179.4 406.4,180.0 406.6,180.6 406.7,181.0 406.9,181.4 407.0,181.8 407.2,182.1 407.3,182.4 407.5,182.6 407.6,182.9 407.8,183.1 407.9,183.2 408.1,183.4 408.2,183.5 408.4,183.7 408.5,183.8 408.7,183.9 408.8,184.0 409.0,184.2 409.1,184.3 409.2,184.3 409.4,184.4 409.6,184.5 409.7,184.6 409.9,184.7 410.0,184.8 410.2,184.8 410.3,184.9 410.5,185.0 410.6,185.0" fill="#c81a2c"/>
<polygon points="398.6,182.2 398.8,182.2 398.9,182.2 399.1,182.2 399.2,182.2 399.4,182.2 399.5,182.2 399.7,182.2 399.8,182.2 400.0,182.2 400.1,182.2 400.2,182.2 400.4,182.2 400.6,182.2 400.7,182.1 400.9,182.1 401.0,182.1 401.2,182.0 401.3,181.9 401.5,181.9 401.6,181.8 401.8,181.7 401.9,181.5 402.1,181.4 402.2,181.2 402.4,181.0 402.5,180.7 402.7,180.4 402.8,180.1 403.0,179.6 403.1,179.1 403.2,178.5 403.4,177.7 403.6,176.8 403.7,175.7 403.9,174.5 404.0,173.1 404.2,171.8 404.3,170.6 404.5,169.7 404.6,169.4 404.8,169.8 404.9,170.7 405.1,172.0 405.2,173.4 405.4,174.8 405.5,176.1 405.7,177.2 405.8,178.2 406.0,179.1 406.1,179.8 406.2,180.4 406.4,180.9 406.6,181.3 406.7,181.7 406.9,182.0 407.0,182.3 407.2,182.5 407.3,182.7 407.5,182.9 407.6,183.1 407.8,183.2 407.9,183.4 408.1,183.5 408.2,183.6 408.4,183.7 408.5,183.8 408.7,183.9 408.8,184.0 409.0,184.1 409.1,184.2 409.2,184.2 409.4,184.3 409.6,184.4 409.7,184.4 409.9,184.5 410.0,184.6 410.2,184.6 410.3,184.7 410.5,184.7 410.6,184.8" fill="#2e6a9c"/>
<polyline points="398.6,182.2 398.8,182.2 398.9,182.2 399.1,182.2 399.2,182.2 399.4,182.2 399.5,182.2 399.7,182.2 399.8,182.2 400.0,182.2 400.1,182.2 400.2,182.2 400.4,182.2 400.6,182.2 400.7,182.1 400.9,182.1 401.0,182.1 401.2,182.0 401.3,181.9 401.5,181.9 401.6,181.8 401.8,181.7 401.9,181.5 402.1,181.4 402.2,181.2 402.4,181.0 402.5,180.7 402.7,180.4 402.8,180.1 403.0,179.6 403.1,179.1 403.2,178.5 403.4,177.7 403.6,176.8 403.7,175.7 403.9,174.5 404.0,173.1 404.2,171.8 404.3,170.6 404.5,169.7 404.6,169.4 404.8,169.8 404.9,170.7 405.1,172.0 405.2,173.4 405.4,174.8 405.5,176.1 405.7,177.2 405.8,178.2 406.0,179.1 406.1,179.8 406.2,180.4 406.4,180.9 406.6,181.3 406.7,181.7 406.9,182.0 407.0,182.3 407.2,182.5 407.3,182.7 407.5,182.9 407.6,183.1 407.8,183.2 407.9,183.4 408.1,183.5 408.2,183.6 408.4,183.7 408.5,183.8 408.7,183.9 408.8,184.0 409.0,184.1 409.1,184.2 409.2,184.2 409.4,184.3 409.6,184.4 409.7,184.4 409.9,184.5 410.0,184.6 410.2,184.6 410.3,184.7 410.5,184.7 410.6,184.8" fill="none" stroke="#1b2a55" stroke-width="0.4"/>
<line x1="393.6" y1="157.8" x2="393.6" y2="183.0" stroke="#aaa" stroke-width="0.4"/>
<line x1="393.6" y1="162.8" x2="410.8" y2="164.3" stroke="#bbb" stroke-width="0.3"/>
<line x1="393.6" y1="182.7" x2="410.8" y2="190.4" stroke="#888" stroke-width="0.4"/>
<line x1="328" y1="158.8" x2="410.8" y2="157.6" stroke="#aaa" stroke-width="0.4"/>
<line x1="410.8" y1="157.6" x2="410.8" y2="190.5" stroke="#aaa" stroke-width="0.4"/>
<text x="335.4" y="167.6" text-anchor="middle" font-family="'Liberation Serif', serif" font-size="5.4" fill="#333">c<tspan font-size="3.6" dy="1.2">5</tspan></text>
<text x="350.3" y="164.6" text-anchor="middle" font-family="'Liberation Serif', serif" font-size="5.4" fill="#333">c<tspan font-size="3.6" dy="1.2">4</tspan></text>
<text x="364.5" y="163.6" text-anchor="middle" font-family="'Liberation Serif', serif" font-size="5.4" fill="#333">c<tspan font-size="3.6" dy="1.2">3</tspan></text>
<text x="381.5" y="162.6" text-anchor="middle" font-family="'Liberation Serif', serif" font-size="5.4" fill="#333">c<tspan font-size="3.6" dy="1.2">2</tspan></text>
<text x="397" y="161.6" text-anchor="middle" font-family="'Liberation Serif', serif" font-size="5.4" fill="#333">c<tspan font-size="3.6" dy="1.2">1</tspan></text>
<text x="321.8" y="186.2" text-anchor="middle" font-family="'Liberation Sans', sans-serif" font-size="4.8" fill="#444">11.56</text>
<text x="340" y="195" text-anchor="middle" font-family="'Liberation Sans', sans-serif" font-size="4.8" fill="#444">11.54</text>
<text x="349.3" y="196" text-anchor="middle" font-family="'Liberation Sans', sans-serif" font-size="4.8" fill="#444">1</text>
<text x="364.2" y="195.3" text-anchor="middle" font-family="'Liberation Sans', sans-serif" font-size="4.8" fill="#444">0.9</text>
<text x="380.8" y="194.8" text-anchor="middle" font-family="'Liberation Sans', sans-serif" font-size="4.8" fill="#444">0.8</text>
<text x="397.5" y="194.2" text-anchor="middle" font-family="'Liberation Sans', sans-serif" font-size="4.8" fill="#444">0.7</text>
<text x="414.5" y="193" text-anchor="middle" font-family="'Liberation Sans', sans-serif" font-size="4.8" fill="#444">0.6</text>
<polyline points="328,187 341,206.8 408,205 408,194" stroke="#444" stroke-width="0.65" stroke-dasharray="1.3,1.0" fill="none"/>
<polyline points="341,206.8 341,237.5 408,232 408,205" stroke="#444" stroke-width="0.65" stroke-dasharray="1.3,1.0" fill="none"/>
</svg></body></html>
